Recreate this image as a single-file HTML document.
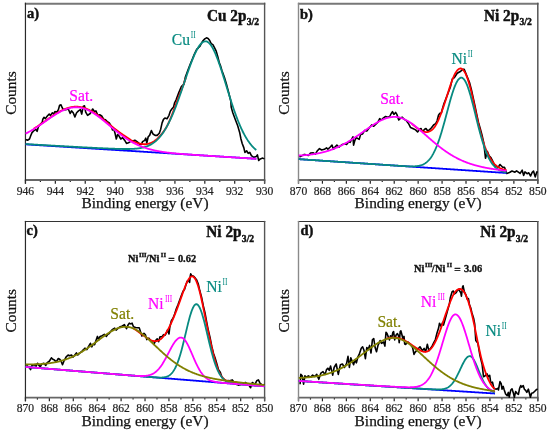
<!DOCTYPE html>
<html><head><meta charset="utf-8"><style>
html,body{margin:0;padding:0;background:#fff;}
svg{display:block;font-family:"Liberation Serif", serif;will-change:transform;}
</style></head><body>
<svg width="550" height="432" viewBox="0 0 550 432" xmlns="http://www.w3.org/2000/svg">
<rect width="550" height="432" fill="#fff"/>
<line x1="264.60" y1="180.0" x2="264.60" y2="183.7" stroke="#222" stroke-width="1.2"/>
<text x="264.60" y="194.8" font-size="11.6" text-anchor="middle" fill="#222" stroke="#222" stroke-width="0.2">930</text>
<line x1="249.65" y1="180.0" x2="249.65" y2="182.0" stroke="#222" stroke-width="1.2"/>
<line x1="234.71" y1="180.0" x2="234.71" y2="183.7" stroke="#222" stroke-width="1.2"/>
<text x="234.71" y="194.8" font-size="11.6" text-anchor="middle" fill="#222" stroke="#222" stroke-width="0.2">932</text>
<line x1="219.76" y1="180.0" x2="219.76" y2="182.0" stroke="#222" stroke-width="1.2"/>
<line x1="204.81" y1="180.0" x2="204.81" y2="183.7" stroke="#222" stroke-width="1.2"/>
<text x="204.81" y="194.8" font-size="11.6" text-anchor="middle" fill="#222" stroke="#222" stroke-width="0.2">934</text>
<line x1="189.87" y1="180.0" x2="189.87" y2="182.0" stroke="#222" stroke-width="1.2"/>
<line x1="174.92" y1="180.0" x2="174.92" y2="183.7" stroke="#222" stroke-width="1.2"/>
<text x="174.92" y="194.8" font-size="11.6" text-anchor="middle" fill="#222" stroke="#222" stroke-width="0.2">936</text>
<line x1="159.97" y1="180.0" x2="159.97" y2="182.0" stroke="#222" stroke-width="1.2"/>
<line x1="145.03" y1="180.0" x2="145.03" y2="183.7" stroke="#222" stroke-width="1.2"/>
<text x="145.03" y="194.8" font-size="11.6" text-anchor="middle" fill="#222" stroke="#222" stroke-width="0.2">938</text>
<line x1="130.08" y1="180.0" x2="130.08" y2="182.0" stroke="#222" stroke-width="1.2"/>
<line x1="115.13" y1="180.0" x2="115.13" y2="183.7" stroke="#222" stroke-width="1.2"/>
<text x="115.13" y="194.8" font-size="11.6" text-anchor="middle" fill="#222" stroke="#222" stroke-width="0.2">940</text>
<line x1="100.18" y1="180.0" x2="100.18" y2="182.0" stroke="#222" stroke-width="1.2"/>
<line x1="85.24" y1="180.0" x2="85.24" y2="183.7" stroke="#222" stroke-width="1.2"/>
<text x="85.24" y="194.8" font-size="11.6" text-anchor="middle" fill="#222" stroke="#222" stroke-width="0.2">942</text>
<line x1="70.29" y1="180.0" x2="70.29" y2="182.0" stroke="#222" stroke-width="1.2"/>
<line x1="55.34" y1="180.0" x2="55.34" y2="183.7" stroke="#222" stroke-width="1.2"/>
<text x="55.34" y="194.8" font-size="11.6" text-anchor="middle" fill="#222" stroke="#222" stroke-width="0.2">944</text>
<line x1="40.40" y1="180.0" x2="40.40" y2="182.0" stroke="#222" stroke-width="1.2"/>
<line x1="25.45" y1="180.0" x2="25.45" y2="183.7" stroke="#222" stroke-width="1.2"/>
<text x="25.45" y="194.8" font-size="11.6" text-anchor="middle" fill="#222" stroke="#222" stroke-width="0.2">946</text>
<line x1="24.849999999999998" y1="3.7" x2="265.3" y2="3.7" stroke="#777" stroke-width="2.0"/>
<line x1="24.849999999999998" y1="180.0" x2="265.3" y2="180.0" stroke="#666" stroke-width="1.8"/>
<line x1="25.45" y1="2.7" x2="25.45" y2="183.7" stroke="#2a2a2a" stroke-width="1.2"/>
<line x1="264.6" y1="2.7" x2="264.6" y2="183.7" stroke="#555" stroke-width="1.4"/>
<text x="145.03" y="208.2" font-size="15.4" text-anchor="middle" fill="#111" stroke="#111" stroke-width="0.25">Binding energy (eV)</text>
<text transform="translate(15.55,93.05) rotate(-90)" x="0" y="0" font-size="15.4" text-anchor="middle" fill="#111" stroke="#111" stroke-width="0.25">Counts</text>
<line x1="537.80" y1="180.0" x2="537.80" y2="183.7" stroke="#222" stroke-width="1.2"/>
<text x="537.80" y="194.8" font-size="11.6" text-anchor="middle" fill="#222" stroke="#222" stroke-width="0.2">850</text>
<line x1="525.83" y1="180.0" x2="525.83" y2="182.0" stroke="#222" stroke-width="1.2"/>
<line x1="513.87" y1="180.0" x2="513.87" y2="183.7" stroke="#222" stroke-width="1.2"/>
<text x="513.87" y="194.8" font-size="11.6" text-anchor="middle" fill="#222" stroke="#222" stroke-width="0.2">852</text>
<line x1="501.90" y1="180.0" x2="501.90" y2="182.0" stroke="#222" stroke-width="1.2"/>
<line x1="489.94" y1="180.0" x2="489.94" y2="183.7" stroke="#222" stroke-width="1.2"/>
<text x="489.94" y="194.8" font-size="11.6" text-anchor="middle" fill="#222" stroke="#222" stroke-width="0.2">854</text>
<line x1="477.97" y1="180.0" x2="477.97" y2="182.0" stroke="#222" stroke-width="1.2"/>
<line x1="466.01" y1="180.0" x2="466.01" y2="183.7" stroke="#222" stroke-width="1.2"/>
<text x="466.01" y="194.8" font-size="11.6" text-anchor="middle" fill="#222" stroke="#222" stroke-width="0.2">856</text>
<line x1="454.04" y1="180.0" x2="454.04" y2="182.0" stroke="#222" stroke-width="1.2"/>
<line x1="442.08" y1="180.0" x2="442.08" y2="183.7" stroke="#222" stroke-width="1.2"/>
<text x="442.08" y="194.8" font-size="11.6" text-anchor="middle" fill="#222" stroke="#222" stroke-width="0.2">858</text>
<line x1="430.11" y1="180.0" x2="430.11" y2="182.0" stroke="#222" stroke-width="1.2"/>
<line x1="418.15" y1="180.0" x2="418.15" y2="183.7" stroke="#222" stroke-width="1.2"/>
<text x="418.15" y="194.8" font-size="11.6" text-anchor="middle" fill="#222" stroke="#222" stroke-width="0.2">860</text>
<line x1="406.19" y1="180.0" x2="406.19" y2="182.0" stroke="#222" stroke-width="1.2"/>
<line x1="394.22" y1="180.0" x2="394.22" y2="183.7" stroke="#222" stroke-width="1.2"/>
<text x="394.22" y="194.8" font-size="11.6" text-anchor="middle" fill="#222" stroke="#222" stroke-width="0.2">862</text>
<line x1="382.25" y1="180.0" x2="382.25" y2="182.0" stroke="#222" stroke-width="1.2"/>
<line x1="370.29" y1="180.0" x2="370.29" y2="183.7" stroke="#222" stroke-width="1.2"/>
<text x="370.29" y="194.8" font-size="11.6" text-anchor="middle" fill="#222" stroke="#222" stroke-width="0.2">864</text>
<line x1="358.32" y1="180.0" x2="358.32" y2="182.0" stroke="#222" stroke-width="1.2"/>
<line x1="346.36" y1="180.0" x2="346.36" y2="183.7" stroke="#222" stroke-width="1.2"/>
<text x="346.36" y="194.8" font-size="11.6" text-anchor="middle" fill="#222" stroke="#222" stroke-width="0.2">866</text>
<line x1="334.39" y1="180.0" x2="334.39" y2="182.0" stroke="#222" stroke-width="1.2"/>
<line x1="322.43" y1="180.0" x2="322.43" y2="183.7" stroke="#222" stroke-width="1.2"/>
<text x="322.43" y="194.8" font-size="11.6" text-anchor="middle" fill="#222" stroke="#222" stroke-width="0.2">868</text>
<line x1="310.46" y1="180.0" x2="310.46" y2="182.0" stroke="#222" stroke-width="1.2"/>
<line x1="298.50" y1="180.0" x2="298.50" y2="183.7" stroke="#222" stroke-width="1.2"/>
<text x="298.50" y="194.8" font-size="11.6" text-anchor="middle" fill="#222" stroke="#222" stroke-width="0.2">870</text>
<line x1="297.9" y1="3.7" x2="538.5" y2="3.7" stroke="#777" stroke-width="2.0"/>
<line x1="297.9" y1="180.0" x2="538.5" y2="180.0" stroke="#666" stroke-width="1.8"/>
<line x1="298.5" y1="2.7" x2="298.5" y2="183.7" stroke="#8a8a8a" stroke-width="1.4"/>
<line x1="537.8" y1="2.7" x2="537.8" y2="183.7" stroke="#555" stroke-width="1.5"/>
<text x="418.15" y="208.2" font-size="15.4" text-anchor="middle" fill="#111" stroke="#111" stroke-width="0.25">Binding energy (eV)</text>
<text transform="translate(288.60,93.05) rotate(-90)" x="0" y="0" font-size="15.4" text-anchor="middle" fill="#111" stroke="#111" stroke-width="0.25">Counts</text>
<line x1="264.60" y1="397.6" x2="264.60" y2="401.3" stroke="#222" stroke-width="1.2"/>
<text x="264.60" y="412.4" font-size="11.6" text-anchor="middle" fill="#222" stroke="#222" stroke-width="0.2">850</text>
<line x1="252.64" y1="397.6" x2="252.64" y2="399.6" stroke="#222" stroke-width="1.2"/>
<line x1="240.69" y1="397.6" x2="240.69" y2="401.3" stroke="#222" stroke-width="1.2"/>
<text x="240.69" y="412.4" font-size="11.6" text-anchor="middle" fill="#222" stroke="#222" stroke-width="0.2">852</text>
<line x1="228.73" y1="397.6" x2="228.73" y2="399.6" stroke="#222" stroke-width="1.2"/>
<line x1="216.77" y1="397.6" x2="216.77" y2="401.3" stroke="#222" stroke-width="1.2"/>
<text x="216.77" y="412.4" font-size="11.6" text-anchor="middle" fill="#222" stroke="#222" stroke-width="0.2">854</text>
<line x1="204.81" y1="397.6" x2="204.81" y2="399.6" stroke="#222" stroke-width="1.2"/>
<line x1="192.86" y1="397.6" x2="192.86" y2="401.3" stroke="#222" stroke-width="1.2"/>
<text x="192.86" y="412.4" font-size="11.6" text-anchor="middle" fill="#222" stroke="#222" stroke-width="0.2">856</text>
<line x1="180.90" y1="397.6" x2="180.90" y2="399.6" stroke="#222" stroke-width="1.2"/>
<line x1="168.94" y1="397.6" x2="168.94" y2="401.3" stroke="#222" stroke-width="1.2"/>
<text x="168.94" y="412.4" font-size="11.6" text-anchor="middle" fill="#222" stroke="#222" stroke-width="0.2">858</text>
<line x1="156.98" y1="397.6" x2="156.98" y2="399.6" stroke="#222" stroke-width="1.2"/>
<line x1="145.03" y1="397.6" x2="145.03" y2="401.3" stroke="#222" stroke-width="1.2"/>
<text x="145.03" y="412.4" font-size="11.6" text-anchor="middle" fill="#222" stroke="#222" stroke-width="0.2">860</text>
<line x1="133.07" y1="397.6" x2="133.07" y2="399.6" stroke="#222" stroke-width="1.2"/>
<line x1="121.11" y1="397.6" x2="121.11" y2="401.3" stroke="#222" stroke-width="1.2"/>
<text x="121.11" y="412.4" font-size="11.6" text-anchor="middle" fill="#222" stroke="#222" stroke-width="0.2">862</text>
<line x1="109.15" y1="397.6" x2="109.15" y2="399.6" stroke="#222" stroke-width="1.2"/>
<line x1="97.20" y1="397.6" x2="97.20" y2="401.3" stroke="#222" stroke-width="1.2"/>
<text x="97.20" y="412.4" font-size="11.6" text-anchor="middle" fill="#222" stroke="#222" stroke-width="0.2">864</text>
<line x1="85.24" y1="397.6" x2="85.24" y2="399.6" stroke="#222" stroke-width="1.2"/>
<line x1="73.28" y1="397.6" x2="73.28" y2="401.3" stroke="#222" stroke-width="1.2"/>
<text x="73.28" y="412.4" font-size="11.6" text-anchor="middle" fill="#222" stroke="#222" stroke-width="0.2">866</text>
<line x1="61.32" y1="397.6" x2="61.32" y2="399.6" stroke="#222" stroke-width="1.2"/>
<line x1="49.37" y1="397.6" x2="49.37" y2="401.3" stroke="#222" stroke-width="1.2"/>
<text x="49.37" y="412.4" font-size="11.6" text-anchor="middle" fill="#222" stroke="#222" stroke-width="0.2">868</text>
<line x1="37.41" y1="397.6" x2="37.41" y2="399.6" stroke="#222" stroke-width="1.2"/>
<line x1="25.45" y1="397.6" x2="25.45" y2="401.3" stroke="#222" stroke-width="1.2"/>
<text x="25.45" y="412.4" font-size="11.6" text-anchor="middle" fill="#222" stroke="#222" stroke-width="0.2">870</text>
<line x1="24.849999999999998" y1="221.5" x2="265.3" y2="221.5" stroke="#333" stroke-width="1.2"/>
<line x1="24.849999999999998" y1="397.6" x2="265.3" y2="397.6" stroke="#666" stroke-width="1.8"/>
<line x1="25.45" y1="220.9" x2="25.45" y2="401.3" stroke="#2a2a2a" stroke-width="1.2"/>
<line x1="264.6" y1="220.9" x2="264.6" y2="401.3" stroke="#555" stroke-width="1.4"/>
<text x="145.03" y="425.8" font-size="15.4" text-anchor="middle" fill="#111" stroke="#111" stroke-width="0.25">Binding energy (eV)</text>
<text transform="translate(15.55,310.75) rotate(-90)" x="0" y="0" font-size="15.4" text-anchor="middle" fill="#111" stroke="#111" stroke-width="0.25">Counts</text>
<line x1="537.80" y1="397.6" x2="537.80" y2="401.3" stroke="#222" stroke-width="1.2"/>
<text x="537.80" y="412.4" font-size="11.6" text-anchor="middle" fill="#222" stroke="#222" stroke-width="0.2">850</text>
<line x1="525.83" y1="397.6" x2="525.83" y2="399.6" stroke="#222" stroke-width="1.2"/>
<line x1="513.87" y1="397.6" x2="513.87" y2="401.3" stroke="#222" stroke-width="1.2"/>
<text x="513.87" y="412.4" font-size="11.6" text-anchor="middle" fill="#222" stroke="#222" stroke-width="0.2">852</text>
<line x1="501.90" y1="397.6" x2="501.90" y2="399.6" stroke="#222" stroke-width="1.2"/>
<line x1="489.94" y1="397.6" x2="489.94" y2="401.3" stroke="#222" stroke-width="1.2"/>
<text x="489.94" y="412.4" font-size="11.6" text-anchor="middle" fill="#222" stroke="#222" stroke-width="0.2">854</text>
<line x1="477.97" y1="397.6" x2="477.97" y2="399.6" stroke="#222" stroke-width="1.2"/>
<line x1="466.01" y1="397.6" x2="466.01" y2="401.3" stroke="#222" stroke-width="1.2"/>
<text x="466.01" y="412.4" font-size="11.6" text-anchor="middle" fill="#222" stroke="#222" stroke-width="0.2">856</text>
<line x1="454.04" y1="397.6" x2="454.04" y2="399.6" stroke="#222" stroke-width="1.2"/>
<line x1="442.08" y1="397.6" x2="442.08" y2="401.3" stroke="#222" stroke-width="1.2"/>
<text x="442.08" y="412.4" font-size="11.6" text-anchor="middle" fill="#222" stroke="#222" stroke-width="0.2">858</text>
<line x1="430.11" y1="397.6" x2="430.11" y2="399.6" stroke="#222" stroke-width="1.2"/>
<line x1="418.15" y1="397.6" x2="418.15" y2="401.3" stroke="#222" stroke-width="1.2"/>
<text x="418.15" y="412.4" font-size="11.6" text-anchor="middle" fill="#222" stroke="#222" stroke-width="0.2">860</text>
<line x1="406.19" y1="397.6" x2="406.19" y2="399.6" stroke="#222" stroke-width="1.2"/>
<line x1="394.22" y1="397.6" x2="394.22" y2="401.3" stroke="#222" stroke-width="1.2"/>
<text x="394.22" y="412.4" font-size="11.6" text-anchor="middle" fill="#222" stroke="#222" stroke-width="0.2">862</text>
<line x1="382.25" y1="397.6" x2="382.25" y2="399.6" stroke="#222" stroke-width="1.2"/>
<line x1="370.29" y1="397.6" x2="370.29" y2="401.3" stroke="#222" stroke-width="1.2"/>
<text x="370.29" y="412.4" font-size="11.6" text-anchor="middle" fill="#222" stroke="#222" stroke-width="0.2">864</text>
<line x1="358.32" y1="397.6" x2="358.32" y2="399.6" stroke="#222" stroke-width="1.2"/>
<line x1="346.36" y1="397.6" x2="346.36" y2="401.3" stroke="#222" stroke-width="1.2"/>
<text x="346.36" y="412.4" font-size="11.6" text-anchor="middle" fill="#222" stroke="#222" stroke-width="0.2">866</text>
<line x1="334.39" y1="397.6" x2="334.39" y2="399.6" stroke="#222" stroke-width="1.2"/>
<line x1="322.43" y1="397.6" x2="322.43" y2="401.3" stroke="#222" stroke-width="1.2"/>
<text x="322.43" y="412.4" font-size="11.6" text-anchor="middle" fill="#222" stroke="#222" stroke-width="0.2">868</text>
<line x1="310.46" y1="397.6" x2="310.46" y2="399.6" stroke="#222" stroke-width="1.2"/>
<line x1="298.50" y1="397.6" x2="298.50" y2="401.3" stroke="#222" stroke-width="1.2"/>
<text x="298.50" y="412.4" font-size="11.6" text-anchor="middle" fill="#222" stroke="#222" stroke-width="0.2">870</text>
<line x1="297.9" y1="221.5" x2="538.5" y2="221.5" stroke="#333" stroke-width="1.2"/>
<line x1="297.9" y1="397.6" x2="538.5" y2="397.6" stroke="#666" stroke-width="1.8"/>
<line x1="298.5" y1="220.9" x2="298.5" y2="401.3" stroke="#8a8a8a" stroke-width="1.4"/>
<line x1="537.8" y1="220.9" x2="537.8" y2="401.3" stroke="#555" stroke-width="1.5"/>
<text x="418.15" y="425.8" font-size="15.4" text-anchor="middle" fill="#111" stroke="#111" stroke-width="0.25">Binding energy (eV)</text>
<text transform="translate(288.60,310.75) rotate(-90)" x="0" y="0" font-size="15.4" text-anchor="middle" fill="#111" stroke="#111" stroke-width="0.25">Counts</text>
<path d="M25.60 139.60L27.50 140.20L29.50 139.00L30.70 135.80L32.00 132.60L33.90 130.70L35.80 129.40L37.10 131.30L38.40 126.80L40.30 124.30L42.20 122.40L42.80 119.20L44.10 117.30L45.40 118.60L47.30 116.00L49.20 114.10L50.50 115.40L52.40 112.80L53.70 114.10L54.90 111.60L56.80 112.20L58.40 109.60L59.60 105.20L61.00 104.90L62.20 107.70L63.20 109.60L65.80 109.60L68.30 109.00L70.20 113.50L71.50 110.90L73.20 112.80L74.90 116.90L76.60 112.80L78.50 110.90L80.40 109.60L81.70 114.10L83.20 106.50L84.50 105.80L85.70 112.20L87.60 115.40L90.20 113.50L92.70 109.00L94.60 111.60L95.90 110.90L97.80 115.40L99.70 114.70L101.70 116.00L103.60 119.20L105.50 119.80L107.40 121.80L109.30 123.00L111.20 126.20L112.50 130.00L113.80 128.80L115.00 133.20L116.30 139.00L117.60 134.50L118.90 135.80L120.80 139.00L122.70 137.70L124.60 140.20L126.50 143.40L128.40 142.80L130.30 141.50L132.90 140.90L134.80 140.20L136.70 141.50L138.60 142.80L139.20 144.20L141.30 144.40L142.60 141.70L144.70 140.30L145.80 138.20L146.80 143.00L148.20 136.80L149.60 135.40L151.40 130.60L153.00 134.00L155.10 135.40L157.20 135.40L159.30 133.30L160.70 129.20L162.10 122.90L163.50 119.40L164.90 118.00L167.00 118.80L169.00 115.30L170.40 111.10L171.80 109.00L173.60 106.90L174.60 102.80L176.00 100.00L178.90 92.40L181.30 86.70L183.80 84.30L185.40 77.00L187.80 70.50L190.30 64.00L192.70 58.40L194.30 54.30L196.70 49.40L198.40 47.80L200.00 46.20L201.60 43.00L203.20 40.50L204.80 38.90L206.50 37.80L208.10 38.40L209.70 40.50L211.30 43.80L212.90 44.60L214.60 47.80L216.20 51.10L217.80 56.70L219.40 63.20L220.20 64.80L221.90 70.50L224.30 77.00L226.70 85.10L228.80 93.00L230.90 101.50L231.20 107.10L232.80 112.80L235.20 119.30L237.70 125.70L239.60 132.20L240.90 138.70L242.20 143.50L243.80 147.60L244.90 152.40L246.60 150.80L248.20 153.30L249.80 152.40L251.40 155.70L253.80 157.30L256.30 156.50L257.40 154.90L258.70 160.50L260.30 158.90L262.70 158.10L264.40 158.90" fill="none" stroke="#000" stroke-width="1.6" stroke-linejoin="round"/>
<path d="M33.60 128.86L34.10 128.55L34.60 128.24L35.10 127.93L35.60 127.61L36.10 127.29L36.60 126.96L37.10 126.63L37.60 126.30L38.10 125.97L38.60 125.64L39.10 125.30L39.60 124.96L40.10 124.62L40.60 124.28L41.10 123.93L41.60 123.59L42.10 123.24L42.60 122.89L43.10 122.54L43.60 122.19L44.10 121.84L44.60 121.48L45.10 121.13L45.60 120.78L46.10 120.42L46.60 120.07L47.10 119.72L47.60 119.37L48.10 119.02L48.60 118.67L49.10 118.32L49.60 117.97L50.10 117.62L50.60 117.28L51.10 116.94L51.60 116.60L52.10 116.26L52.60 115.92L53.10 115.59L53.60 115.26L54.10 114.94L54.60 114.61L55.10 114.29L55.60 113.98L56.10 113.67L56.60 113.36L57.10 113.06L57.60 112.76L58.10 112.47L58.60 112.18L59.10 111.90L59.60 111.62L60.10 111.35L60.60 111.08L61.10 110.82L61.60 110.57L62.10 110.32L62.60 110.08L63.10 109.85L63.60 109.63L64.10 109.41L64.60 109.20L65.10 108.99L65.60 108.80L66.10 108.61L66.60 108.43L67.10 108.26L67.60 108.09L68.10 107.94L68.60 107.79L69.10 107.65L69.60 107.52L70.10 107.40L70.60 107.29L71.10 107.19L71.60 107.09L72.10 107.01L72.60 106.94L73.10 106.87L73.60 106.81L74.10 106.77L74.60 106.73L75.10 106.71L75.60 106.69L76.10 106.68L76.60 106.68L77.10 106.70L77.60 106.72L78.10 106.75L78.60 106.79L79.10 106.84L79.60 106.91L80.10 106.98L80.60 107.06L81.10 107.15L81.60 107.26L82.10 107.37L82.60 107.49L83.10 107.62L83.60 107.76L84.10 107.92L84.60 108.08L85.10 108.25L85.60 108.43L86.10 108.62L86.60 108.81L87.10 109.02L87.60 109.24L88.10 109.46L88.60 109.69L89.10 109.93L89.60 110.18L90.10 110.44L90.60 110.71L91.10 110.98L91.60 111.26L92.10 111.55L92.60 111.84L93.10 112.14L93.60 112.45L94.10 112.77L94.60 113.09L95.10 113.42L95.60 113.75L96.10 114.09L96.60 114.43L97.10 114.78L97.60 115.14L98.10 115.50L98.60 115.86L99.10 116.23L99.60 116.60L100.10 116.98L100.60 117.36L101.10 117.75L101.60 118.13L102.10 118.53L102.60 118.92L103.10 119.31L103.60 119.71L104.10 120.11L104.60 120.52L105.10 120.92L105.60 121.33L106.10 121.73L106.60 122.14L107.10 122.55L107.60 122.96L108.10 123.37L108.60 123.78L109.10 124.19L109.60 124.60L110.10 125.01L110.60 125.42L111.10 125.82L111.60 126.23L112.10 126.63L112.60 127.04L113.10 127.44L113.60 127.84L114.10 128.24L114.60 128.64L115.10 129.03L115.60 129.42L116.10 129.81L116.60 130.19L117.10 130.58L117.60 130.96L118.10 131.33L118.60 131.71L119.10 132.08L119.60 132.44L120.10 132.80L120.60 133.16L121.10 133.51L121.60 133.86L122.10 134.21L122.60 134.55L123.10 134.88L123.60 135.21L124.10 135.54L124.60 135.86L125.10 136.18L125.60 136.50L126.10 136.82L126.60 137.14L127.10 137.47L127.60 137.80L128.10 138.13L128.60 138.48L129.10 138.82L129.60 139.17L130.10 139.51L130.60 139.84L131.10 140.16L131.60 140.46L132.10 140.75L132.60 141.02L133.10 141.27L133.60 141.51L134.10 141.74L134.60 141.96L135.10 142.16L135.60 142.36L136.10 142.54L136.60 142.72L137.10 142.89L137.60 143.04L138.10 143.19L138.60 143.34L139.10 143.47L139.60 143.59L140.10 143.70L140.60 143.80L141.10 143.90L141.60 143.98L142.10 144.05L142.60 144.12L143.10 144.17L143.60 144.21L144.10 144.24L144.60 144.26L145.10 144.26L145.60 144.24L146.10 144.20L146.60 144.14L147.10 144.06L147.60 143.96L148.10 143.84L148.60 143.71L149.10 143.55L149.60 143.38L150.10 143.20L150.60 143.00L151.10 142.79L151.60 142.56L152.10 142.31L152.60 142.04L153.10 141.76L153.60 141.46L154.10 141.14L154.60 140.80L155.10 140.44L155.60 140.07L156.10 139.68L156.60 139.27L157.10 138.84L157.60 138.39L158.10 137.93L158.60 137.44L159.10 136.93L159.60 136.41L160.10 135.86L160.60 135.29L161.10 134.70L161.60 134.09L162.10 133.47L162.60 132.82L163.10 132.16L163.60 131.48L164.10 130.77L164.60 130.04L165.10 129.29L165.60 128.51L166.10 127.69L166.60 126.83L167.10 125.93L167.60 124.99L168.10 124.00L168.60 122.96L169.10 121.87L169.60 120.73L170.10 119.56L170.60 118.34L171.10 117.09L171.60 115.81L172.10 114.50L172.60 113.18L173.10 111.85L173.60 110.50L174.10 109.14L174.60 107.78L175.10 106.42L175.60 105.05L176.10 103.69L176.60 102.34L177.10 100.99L177.60 99.65L178.10 98.33L178.60 97.03L179.10 95.75L179.60 94.49L180.10 93.25L180.60 92.02L181.10 90.79L181.60 89.54L182.10 88.27L182.60 86.97L183.10 85.62L183.60 84.24L184.10 82.83L184.60 81.41L185.10 79.96L185.60 78.51L186.10 77.06" fill="none" stroke="#ff0000" stroke-width="1.8"/>
<path d="M25.60 144.35L26.10 144.39L26.60 144.42L27.10 144.45L27.60 144.48L28.10 144.51L28.60 144.54L29.10 144.57L29.60 144.61L30.10 144.64L30.60 144.67L31.10 144.70L31.60 144.73L32.10 144.76L32.60 144.79L33.10 144.82L33.60 144.86L34.10 144.89L34.60 144.92L35.10 144.95L35.60 144.98L36.10 145.01L36.60 145.04L37.10 145.07L37.60 145.11L38.10 145.14L38.60 145.17L39.10 145.20L39.60 145.23L40.10 145.26L40.60 145.29L41.10 145.33L41.60 145.36L42.10 145.39L42.60 145.42L43.10 145.45L43.60 145.48L44.10 145.51L44.60 145.54L45.10 145.58L45.60 145.61L46.10 145.64L46.60 145.67L47.10 145.70L47.60 145.73L48.10 145.76L48.60 145.79L49.10 145.83L49.60 145.86L50.10 145.89L50.60 145.92L51.10 145.95L51.60 145.98L52.10 146.01L52.60 146.05L53.10 146.08L53.60 146.11L54.10 146.14L54.60 146.17L55.10 146.20L55.60 146.23L56.10 146.26L56.60 146.30L57.10 146.33L57.60 146.36L58.10 146.39L58.60 146.42L59.10 146.45L59.60 146.48L60.10 146.52L60.60 146.55L61.10 146.58L61.60 146.61L62.10 146.64L62.60 146.67L63.10 146.70L63.60 146.73L64.10 146.77L64.60 146.80L65.10 146.83L65.60 146.86L66.10 146.89L66.60 146.92L67.10 146.95L67.60 146.98L68.10 147.02L68.60 147.05L69.10 147.08L69.60 147.11L70.10 147.14L70.60 147.17L71.10 147.20L71.60 147.24L72.10 147.27L72.60 147.30L73.10 147.33L73.60 147.36L74.10 147.39L74.60 147.42L75.10 147.45L75.60 147.49L76.10 147.52L76.60 147.55L77.10 147.58L77.60 147.61L78.10 147.64L78.60 147.67L79.10 147.70L79.60 147.74L80.10 147.77L80.60 147.80L81.10 147.83L81.60 147.86L82.10 147.89L82.60 147.92L83.10 147.96L83.60 147.99L84.10 148.02L84.60 148.05L85.10 148.08L85.60 148.11L86.10 148.14L86.60 148.17L87.10 148.21L87.60 148.24L88.10 148.27L88.60 148.30L89.10 148.33L89.60 148.36L90.10 148.39L90.60 148.43L91.10 148.46L91.60 148.49L92.10 148.52L92.60 148.55L93.10 148.58L93.60 148.61L94.10 148.64L94.60 148.68L95.10 148.71L95.60 148.74L96.10 148.77L96.60 148.80L97.10 148.83L97.60 148.86L98.10 148.89L98.60 148.93L99.10 148.96L99.60 148.99L100.10 149.02L100.60 149.05L101.10 149.08L101.60 149.11L102.10 149.15L102.60 149.18L103.10 149.21L103.60 149.24L104.10 149.27L104.60 149.30L105.10 149.33L105.60 149.36L106.10 149.40L106.60 149.43L107.10 149.46L107.60 149.49L108.10 149.52L108.60 149.55L109.10 149.58L109.60 149.61L110.10 149.65L110.60 149.68L111.10 149.71L111.60 149.74L112.10 149.77L112.60 149.80L113.10 149.83L113.60 149.87L114.10 149.90L114.60 149.93L115.10 149.96L115.60 149.99L116.10 150.02L116.60 150.05L117.10 150.08L117.60 150.12L118.10 150.15L118.60 150.18L119.10 150.21L119.60 150.24L120.10 150.27L120.60 150.30L121.10 150.33L121.60 150.37L122.10 150.40L122.60 150.43L123.10 150.46L123.60 150.49L124.10 150.52L124.60 150.55L125.10 150.59L125.60 150.62L126.10 150.65L126.60 150.68L127.10 150.71L127.60 150.74L128.10 150.77L128.60 150.80L129.10 150.84L129.60 150.87L130.10 150.90L130.60 150.93L131.10 150.96L131.60 150.99L132.10 151.02L132.60 151.06L133.10 151.09L133.60 151.12L134.10 151.15L134.60 151.18L135.10 151.21L135.60 151.24L136.10 151.27L136.60 151.31L137.10 151.34L137.60 151.37L138.10 151.40L138.60 151.43L139.10 151.46L139.60 151.49L140.10 151.52L140.60 151.56L141.10 151.59L141.60 151.62L142.10 151.65L142.60 151.68L143.10 151.71L143.60 151.74L144.10 151.78L144.60 151.81L145.10 151.84L145.60 151.87L146.10 151.90L146.60 151.93L147.10 151.96L147.60 151.99L148.10 152.03L148.60 152.06L149.10 152.09L149.60 152.12L150.10 152.15L150.60 152.18L151.10 152.21L151.60 152.24L152.10 152.28L152.60 152.31L153.10 152.34L153.60 152.37L154.10 152.40L154.60 152.43L155.10 152.46L155.60 152.50L156.10 152.53L156.60 152.56L157.10 152.59L157.60 152.62L158.10 152.65L158.60 152.68L159.10 152.71L159.60 152.75L160.10 152.78L160.60 152.81L161.10 152.84L161.60 152.87L162.10 152.90L162.60 152.93L163.10 152.97L163.60 153.00L164.10 153.03L164.60 153.06L165.10 153.09L165.60 153.12L166.10 153.15L166.60 153.18L167.10 153.22L167.60 153.25L168.10 153.28L168.60 153.31L169.10 153.34L169.60 153.37L170.10 153.40L170.60 153.43L171.10 153.47L171.60 153.50L172.10 153.53L172.60 153.56L173.10 153.59L173.60 153.62L174.10 153.65L174.60 153.69L175.10 153.72L175.60 153.75L176.10 153.78L176.60 153.81L177.10 153.84L177.60 153.87L178.10 153.90L178.60 153.94L179.10 153.97L179.60 154.00L180.10 154.03L180.60 154.06L181.10 154.09L181.60 154.12L182.10 154.15L182.60 154.19L183.10 154.22L183.60 154.25L184.10 154.28L184.60 154.31L185.10 154.34L185.60 154.37L186.10 154.41L186.60 154.44L187.10 154.47L187.60 154.50L188.10 154.53L188.60 154.56L189.10 154.59L189.60 154.62L190.10 154.66L190.60 154.69L191.10 154.72L191.60 154.75L192.10 154.78L192.60 154.81L193.10 154.84L193.60 154.88L194.10 154.91L194.60 154.94L195.10 154.97L195.60 155.00L196.10 155.03L196.60 155.06L197.10 155.09L197.60 155.13L198.10 155.16L198.60 155.19L199.10 155.22L199.60 155.25L200.10 155.28L200.60 155.31L201.10 155.34L201.60 155.38L202.10 155.41L202.60 155.44L203.10 155.47L203.60 155.50L204.10 155.53L204.60 155.56L205.10 155.60L205.60 155.63L206.10 155.66L206.60 155.69L207.10 155.72L207.60 155.75L208.10 155.78L208.60 155.81L209.10 155.85L209.60 155.88L210.10 155.91L210.60 155.94L211.10 155.97L211.60 156.00L212.10 156.03L212.60 156.06L213.10 156.10L213.60 156.13L214.10 156.16L214.60 156.19L215.10 156.22L215.60 156.25L216.10 156.28L216.60 156.32L217.10 156.35L217.60 156.38L218.10 156.41L218.60 156.44L219.10 156.47L219.60 156.50L220.10 156.53L220.60 156.57L221.10 156.60L221.60 156.63L222.10 156.66L222.60 156.69L223.10 156.72L223.60 156.75L224.10 156.78L224.60 156.82L225.10 156.85L225.60 156.88L226.10 156.91L226.60 156.94L227.10 156.97L227.60 157.00L228.10 157.04L228.60 157.07L229.10 157.10L229.60 157.13L230.10 157.16L230.60 157.19L231.10 157.22L231.60 157.25L232.10 157.29L232.60 157.32L233.10 157.35L233.60 157.38L234.10 157.41L234.60 157.44L235.10 157.47L235.60 157.51L236.10 157.54L236.60 157.57L237.10 157.60L237.60 157.63L238.10 157.66L238.60 157.69L239.10 157.72L239.60 157.76L240.10 157.79L240.60 157.82L241.10 157.85L241.60 157.88L242.10 157.91L242.60 157.94L243.10 157.97L243.60 158.01L244.10 158.04L244.60 158.07L245.10 158.10L245.60 158.13L246.10 158.16L246.60 158.19L247.10 158.23L247.60 158.26L248.10 158.29L248.60 158.32L249.10 158.35L249.60 158.38L250.10 158.41L250.60 158.44L251.10 158.48L251.60 158.51L252.10 158.54L252.60 158.57L253.10 158.60L253.60 158.63L254.10 158.66L254.60 158.69L255.10 158.73L255.60 158.76L256.10 158.79L256.30 158.80" fill="none" stroke="#0000ff" stroke-width="1.8"/>
<path d="M25.60 144.05L26.10 144.07L26.60 144.10L27.10 144.13L27.60 144.16L28.10 144.19L28.60 144.22L29.10 144.25L29.60 144.28L30.10 144.31L30.60 144.34L31.10 144.37L31.60 144.40L32.10 144.43L32.60 144.46L33.10 144.49L33.60 144.52L34.10 144.55L34.60 144.58L35.10 144.61L35.60 144.63L36.10 144.66L36.60 144.69L37.10 144.72L37.60 144.75L38.10 144.78L38.60 144.81L39.10 144.84L39.60 144.87L40.10 144.90L40.60 144.93L41.10 144.96L41.60 144.99L42.10 145.01L42.60 145.04L43.10 145.07L43.60 145.10L44.10 145.13L44.60 145.16L45.10 145.19L45.60 145.22L46.10 145.25L46.60 145.28L47.10 145.30L47.60 145.33L48.10 145.36L48.60 145.39L49.10 145.42L49.60 145.45L50.10 145.48L50.60 145.51L51.10 145.53L51.60 145.56L52.10 145.59L52.60 145.62L53.10 145.65L53.60 145.68L54.10 145.71L54.60 145.73L55.10 145.76L55.60 145.79L56.10 145.82L56.60 145.85L57.10 145.88L57.60 145.91L58.10 145.93L58.60 145.96L59.10 145.99L59.60 146.02L60.10 146.05L60.60 146.07L61.10 146.10L61.60 146.13L62.10 146.16L62.60 146.19L63.10 146.22L63.60 146.24L64.10 146.27L64.60 146.30L65.10 146.33L65.60 146.35L66.10 146.38L66.60 146.41L67.10 146.44L67.60 146.47L68.10 146.49L68.60 146.52L69.10 146.55L69.60 146.58L70.10 146.60L70.60 146.63L71.10 146.66L71.60 146.69L72.10 146.71L72.60 146.74L73.10 146.77L73.60 146.80L74.10 146.82L74.60 146.85L75.10 146.88L75.60 146.90L76.10 146.93L76.60 146.96L77.10 146.98L77.60 147.01L78.10 147.04L78.60 147.06L79.10 147.09L79.60 147.12L80.10 147.14L80.60 147.17L81.10 147.20L81.60 147.22L82.10 147.25L82.60 147.28L83.10 147.30L83.60 147.33L84.10 147.36L84.60 147.38L85.10 147.41L85.60 147.43L86.10 147.46L86.60 147.49L87.10 147.51L87.60 147.54L88.10 147.56L88.60 147.59L89.10 147.61L89.60 147.64L90.10 147.66L90.60 147.69L91.10 147.71L91.60 147.74L92.10 147.76L92.60 147.79L93.10 147.81L93.60 147.84L94.10 147.86L94.60 147.89L95.10 147.91L95.60 147.94L96.10 147.96L96.60 147.99L97.10 148.01L97.60 148.03L98.10 148.06L98.60 148.08L99.10 148.11L99.60 148.13L100.10 148.15L100.60 148.18L101.10 148.20L101.60 148.22L102.10 148.25L102.60 148.27L103.10 148.29L103.60 148.31L104.10 148.34L104.60 148.36L105.10 148.38L105.60 148.40L106.10 148.42L106.60 148.45L107.10 148.47L107.60 148.49L108.10 148.51L108.60 148.53L109.10 148.55L109.60 148.57L110.10 148.59L110.60 148.61L111.10 148.63L111.60 148.65L112.10 148.67L112.60 148.69L113.10 148.71L113.60 148.73L114.10 148.75L114.60 148.76L115.10 148.78L115.60 148.80L116.10 148.81L116.60 148.83L117.10 148.85L117.60 148.86L118.10 148.88L118.60 148.89L119.10 148.90L119.60 148.92L120.10 148.93L120.60 148.94L121.10 148.95L121.60 148.96L122.10 148.97L122.60 148.98L123.10 148.99L123.60 148.99L124.10 149.00L124.60 149.00L125.10 149.01L125.60 149.01L126.10 149.01L126.60 149.01L127.10 149.01L127.60 149.01L128.10 149.00L128.60 149.00L129.10 148.99L129.60 148.98L130.10 148.97L130.60 148.95L131.10 148.94L131.60 148.92L132.10 148.90L132.60 148.88L133.10 148.85L133.60 148.82L134.10 148.79L134.60 148.76L135.10 148.72L135.60 148.68L136.10 148.63L136.60 148.59L137.10 148.53L137.60 148.48L138.10 148.41L138.60 148.35L139.10 148.28L139.60 148.20L140.10 148.12L140.60 148.03L141.10 147.94L141.60 147.84L142.10 147.73L142.60 147.62L143.10 147.50L143.60 147.38L144.10 147.24L144.60 147.10L145.10 146.95L145.60 146.79L146.10 146.62L146.60 146.44L147.10 146.26L147.60 146.06L148.10 145.85L148.60 145.63L149.10 145.40L149.60 145.16L150.10 144.90L150.60 144.64L151.10 144.36L151.60 144.06L152.10 143.76L152.60 143.44L153.10 143.10L153.60 142.75L154.10 142.38L154.60 142.00L155.10 141.60L155.60 141.19L156.10 140.75L156.60 140.30L157.10 139.83L157.60 139.35L158.10 138.84L158.60 138.32L159.10 137.77L159.60 137.20L160.10 136.62L160.60 136.01L161.10 135.38L161.60 134.73L162.10 134.06L162.60 133.36L163.10 132.65L163.60 131.91L164.10 131.15L164.60 130.36L165.10 129.55L165.60 128.72L166.10 127.86L166.60 126.98L167.10 126.07L167.60 125.15L168.10 124.19L168.60 123.22L169.10 122.22L169.60 121.19L170.10 120.14L170.60 119.07L171.10 117.98L171.60 116.86L172.10 115.72L172.60 114.55L173.10 113.37L173.60 112.16L174.10 110.93L174.60 109.68L175.10 108.42L175.60 107.13L176.10 105.82L176.60 104.49L177.10 103.15L177.60 101.79L178.10 100.42L178.60 99.03L179.10 97.63L179.60 96.21L180.10 94.78L180.60 93.34L181.10 91.89L181.60 90.44L182.10 88.97L182.60 87.50L183.10 86.03L183.60 84.55L184.10 83.07L184.60 81.60L185.10 80.12L185.60 78.64L186.10 77.17L186.60 75.71L187.10 74.25L187.60 72.80L188.10 71.36L188.60 69.94L189.10 68.53L189.60 67.13L190.10 65.76L190.60 64.40L191.10 63.07L191.60 61.75L192.10 60.47L192.60 59.21L193.10 57.98L193.60 56.78L194.10 55.61L194.60 54.47L195.10 53.38L195.60 52.32L196.10 51.30L196.60 50.32L197.10 49.38L197.60 48.49L198.10 47.64L198.60 46.84L199.10 46.09L199.60 45.39L200.10 44.75L200.60 44.15L201.10 43.61L201.60 43.13L202.10 42.70L202.60 42.33L203.10 42.02L203.60 41.76L204.10 41.56L204.60 41.43L205.10 41.35L205.60 41.34L206.10 41.38L206.60 41.49L207.10 41.67L207.60 41.92L208.10 42.23L208.60 42.61L209.10 43.05L209.60 43.56L210.10 44.12L210.60 44.75L211.10 45.44L211.60 46.19L212.10 47.00L212.60 47.86L213.10 48.78L213.60 49.75L214.10 50.77L214.60 51.84L215.10 52.96L215.60 54.12L216.10 55.32L216.60 56.57L217.10 57.85L217.60 59.17L218.10 60.53L218.60 61.91L219.10 63.33L219.60 64.78L220.10 66.25L220.60 67.75L221.10 69.27L221.60 70.80L222.10 72.36L222.60 73.93L223.10 75.51L223.60 77.11L224.10 78.71L224.60 80.33L225.10 81.94L225.60 83.57L226.10 85.19L226.60 86.82L227.10 88.44L227.60 90.06L228.10 91.67L228.60 93.28L229.10 94.88L229.60 96.48L230.10 98.06L230.60 99.63L231.10 101.18L231.60 102.72L232.10 104.25L232.60 105.76L233.10 107.25L233.60 108.72L234.10 110.18L234.60 111.61L235.10 113.02L235.60 114.41L236.10 115.77L236.60 117.12L237.10 118.43L237.60 119.73L238.10 121.00L238.60 122.24L239.10 123.46L239.60 124.65L240.10 125.82L240.60 126.96L241.10 128.07L241.60 129.15L242.10 130.21L242.60 131.25L243.10 132.25L243.60 133.23L244.10 134.19L244.60 135.11L245.10 136.01L245.60 136.89L246.10 137.74L246.60 138.56L247.10 139.36L247.60 140.13L248.10 140.88L248.60 141.61L249.10 142.31L249.60 142.99L250.10 143.64L250.60 144.27L251.10 144.88L251.60 145.47L252.10 146.04L252.60 146.59L253.10 147.12L253.60 147.63L254.10 148.12L254.60 148.59L255.10 149.05L255.60 149.48L256.10 149.90L256.30 150.06" fill="none" stroke="#078a80" stroke-width="1.8"/>
<path d="M25.60 133.59L26.10 133.35L26.60 133.10L27.10 132.85L27.60 132.59L28.10 132.33L28.60 132.07L29.10 131.80L29.60 131.52L30.10 131.25L30.60 130.97L31.10 130.68L31.60 130.39L32.10 130.10L32.60 129.80L33.10 129.50L33.60 129.20L34.10 128.89L34.60 128.58L35.10 128.27L35.60 127.95L36.10 127.63L36.60 127.31L37.10 126.99L37.60 126.66L38.10 126.33L38.60 126.00L39.10 125.66L39.60 125.32L40.10 124.98L40.60 124.64L41.10 124.30L41.60 123.96L42.10 123.61L42.60 123.26L43.10 122.92L43.60 122.57L44.10 122.22L44.60 121.87L45.10 121.52L45.60 121.17L46.10 120.82L46.60 120.47L47.10 120.12L47.60 119.77L48.10 119.42L48.60 119.07L49.10 118.72L49.60 118.38L50.10 118.04L50.60 117.69L51.10 117.35L51.60 117.02L52.10 116.68L52.60 116.35L53.10 116.02L53.60 115.69L54.10 115.37L54.60 115.05L55.10 114.73L55.60 114.42L56.10 114.11L56.60 113.81L57.10 113.51L57.60 113.21L58.10 112.92L58.60 112.64L59.10 112.36L59.60 112.08L60.10 111.82L60.60 111.55L61.10 111.30L61.60 111.05L62.10 110.81L62.60 110.57L63.10 110.34L63.60 110.12L64.10 109.90L64.60 109.69L65.10 109.49L65.60 109.30L66.10 109.12L66.60 108.94L67.10 108.77L67.60 108.61L68.10 108.46L68.60 108.32L69.10 108.18L69.60 108.06L70.10 107.94L70.60 107.83L71.10 107.73L71.60 107.64L72.10 107.56L72.60 107.49L73.10 107.43L73.60 107.38L74.10 107.34L74.60 107.31L75.10 107.28L75.60 107.27L76.10 107.27L76.60 107.27L77.10 107.29L77.60 107.32L78.10 107.35L78.60 107.40L79.10 107.46L79.60 107.52L80.10 107.60L80.60 107.69L81.10 107.79L81.60 107.89L82.10 108.01L82.60 108.14L83.10 108.28L83.60 108.42L84.10 108.58L84.60 108.74L85.10 108.92L85.60 109.11L86.10 109.30L86.60 109.50L87.10 109.72L87.60 109.94L88.10 110.17L88.60 110.40L89.10 110.65L89.60 110.91L90.10 111.17L90.60 111.44L91.10 111.72L91.60 112.01L92.10 112.30L92.60 112.60L93.10 112.91L93.60 113.22L94.10 113.55L94.60 113.87L95.10 114.21L95.60 114.55L96.10 114.90L96.60 115.25L97.10 115.60L97.60 115.97L98.10 116.33L98.60 116.71L99.10 117.08L99.60 117.46L100.10 117.85L100.60 118.24L101.10 118.63L101.60 119.03L102.10 119.42L102.60 119.83L103.10 120.23L103.60 120.64L104.10 121.05L104.60 121.46L105.10 121.87L105.60 122.29L106.10 122.70L106.60 123.12L107.10 123.54L107.60 123.96L108.10 124.38L108.60 124.80L109.10 125.22L109.60 125.64L110.10 126.06L110.60 126.48L111.10 126.90L111.60 127.32L112.10 127.73L112.60 128.15L113.10 128.57L113.60 128.98L114.10 129.39L114.60 129.80L115.10 130.21L115.60 130.61L116.10 131.02L116.60 131.42L117.10 131.82L117.60 132.21L118.10 132.61L118.60 133.00L119.10 133.38L119.60 133.77L120.10 134.15L120.60 134.52L121.10 134.90L121.60 135.27L122.10 135.63L122.60 136.00L123.10 136.35L123.60 136.71L124.10 137.06L124.60 137.41L125.10 137.75L125.60 138.09L126.10 138.42L126.60 138.75L127.10 139.08L127.60 139.40L128.10 139.71L128.60 140.03L129.10 140.33L129.60 140.64L130.10 140.94L130.60 141.23L131.10 141.52L131.60 141.81L132.10 142.09L132.60 142.36L133.10 142.63L133.60 142.90L134.10 143.16L134.60 143.42L135.10 143.67L135.60 143.92L136.10 144.17L136.60 144.41L137.10 144.64L137.60 144.87L138.10 145.10L138.60 145.32L139.10 145.54L139.60 145.75L140.10 145.96L140.60 146.17L141.10 146.37L141.60 146.57L142.10 146.76L142.60 146.95L143.10 147.14L143.60 147.32L144.10 147.49L144.60 147.67L145.10 147.84L145.60 148.00L146.10 148.17L146.60 148.33L147.10 148.48L147.60 148.63L148.10 148.78L148.60 148.93L149.10 149.07L149.60 149.21L150.10 149.35L150.60 149.48L151.10 149.61L151.60 149.74L152.10 149.86L152.60 149.98L153.10 150.10L153.60 150.21L154.10 150.33L154.60 150.44L155.10 150.55L155.60 150.65L156.10 150.75L156.60 150.86L157.10 150.95L157.60 151.05L158.10 151.14L158.60 151.24L159.10 151.33L159.60 151.41L160.10 151.50L160.60 151.58L161.10 151.66L161.60 151.74L162.10 151.82L162.60 151.90L163.10 151.97L163.60 152.05L164.10 152.12L164.60 152.19L165.10 152.26L165.60 152.33L166.10 152.39L166.60 152.46L167.10 152.52L167.60 152.58L168.10 152.64L168.60 152.70L169.10 152.76L169.60 152.82L170.10 152.88L170.60 152.93L171.10 152.99L171.60 153.04L172.10 153.09L172.60 153.14L173.10 153.20L173.60 153.25L174.10 153.30L174.60 153.34L175.10 153.39L175.60 153.44L176.10 153.48L176.60 153.53L177.10 153.58L177.60 153.62L178.10 153.66L178.60 153.71L179.10 153.75L179.60 153.79L180.10 153.83L180.60 153.87L181.10 153.92L181.60 153.96L182.10 154.00L182.60 154.04L183.10 154.07L183.60 154.11L184.10 154.15L184.60 154.19L185.10 154.23L185.60 154.27L186.10 154.30L186.60 154.34L187.10 154.38L187.60 154.41L188.10 154.45L188.60 154.48L189.10 154.52L189.60 154.55L190.10 154.59L190.60 154.62L191.10 154.66L191.60 154.69L192.10 154.73L192.60 154.76L193.10 154.80L193.60 154.83L194.10 154.86L194.60 154.90L195.10 154.93L195.60 154.97L196.10 155.00L196.60 155.03L197.10 155.07L197.60 155.10L198.10 155.13L198.60 155.16L199.10 155.20L199.60 155.23L200.10 155.26L200.60 155.29L201.10 155.33L201.60 155.36L202.10 155.39L202.60 155.42L203.10 155.46L203.60 155.49L204.10 155.52L204.60 155.55L205.10 155.58L205.60 155.62L206.10 155.65L206.60 155.68L207.10 155.71L207.60 155.74L208.10 155.78L208.60 155.81L209.10 155.84L209.60 155.87L210.10 155.90L210.60 155.93L211.10 155.97L211.60 156.00L212.10 156.03L212.60 156.06L213.10 156.09L213.60 156.12L214.10 156.16L214.60 156.19L215.10 156.22L215.60 156.25L216.10 156.28L216.60 156.31L217.10 156.34L217.60 156.38L218.10 156.41L218.60 156.44L219.10 156.47L219.60 156.50L220.10 156.53L220.60 156.56L221.10 156.60L221.60 156.63L222.10 156.66L222.60 156.69L223.10 156.72L223.60 156.75L224.10 156.78L224.60 156.82L225.10 156.85L225.60 156.88L226.10 156.91L226.60 156.94L227.10 156.97L227.60 157.00L228.10 157.04L228.60 157.07L229.10 157.10L229.60 157.13L230.10 157.16L230.60 157.19L231.10 157.22L231.60 157.25L232.10 157.29L232.60 157.32L233.10 157.35L233.60 157.38L234.10 157.41L234.60 157.44L235.10 157.47L235.60 157.50L236.10 157.54L236.60 157.57L237.10 157.60L237.60 157.63L238.10 157.66L238.60 157.69L239.10 157.72L239.60 157.76L240.10 157.79L240.60 157.82L241.10 157.85L241.60 157.88L242.10 157.91L242.60 157.94L243.10 157.97L243.60 158.01L244.10 158.04L244.60 158.07L245.10 158.10L245.60 158.13L246.10 158.16L246.60 158.19L247.10 158.23L247.60 158.26L248.10 158.29L248.60 158.32L249.10 158.35L249.60 158.38L250.10 158.41L250.60 158.44L251.10 158.48L251.60 158.51L252.10 158.54L252.60 158.57L253.10 158.60L253.60 158.63L254.10 158.66L254.60 158.69L255.10 158.73L255.60 158.76L256.10 158.79L256.30 158.80" fill="none" stroke="#ff00ff" stroke-width="1.8"/>
<path d="M299.40 157.00L302.20 155.60L304.25 154.41L306.30 154.90L308.40 155.45L310.50 153.10L313.30 152.80L315.40 154.20L317.40 150.70L319.50 148.60L321.60 150.00L324.40 149.30L326.50 147.90L327.90 149.30L330.00 147.20L332.00 145.10L333.40 149.30L334.80 147.20L336.90 145.10L339.00 147.20L340.40 145.80L342.40 144.40L344.50 143.75L346.60 144.40L348.70 141.70L350.10 142.40L351.50 139.60L352.90 136.80L353.60 145.10L354.90 140.30L356.30 137.50L357.10 138.10L359.20 139.40L360.60 134.60L362.60 133.90L364.70 130.40L366.80 131.10L368.90 128.30L371.70 124.90L373.75 126.25L375.80 124.20L377.90 122.10L379.70 118.60L381.40 120.00L383.50 117.90L385.60 116.50L387.60 117.20L389.70 116.50L391.10 113.75L392.50 111.70L393.90 114.40L395.60 112.40L396.90 114.40L398.75 120.00L400.10 118.60L402.20 117.20L404.30 119.30L406.40 120.70L408.50 123.50L410.60 127.60L412.80 128.50L415.60 129.90L417.60 131.90L419.70 129.20L421.10 128.50L422.50 131.70L424.60 129.20L426.00 128.50L427.40 130.60L429.40 129.90L431.50 127.80L433.60 125.00L435.70 123.60L437.10 120.80L438.50 115.30L439.90 113.20L441.25 113.20L442.60 108.30L444.00 103.50L445.40 100.00L448.20 92.80L450.30 87.20L452.35 78.85L454.40 77.50L457.20 73.30L460.70 71.25L462.80 69.40L464.20 69.20L466.90 76.10L469.70 83.10L471.46 89.96L473.21 97.88L474.97 105.81L476.72 114.39L478.48 122.51L480.23 128.45L481.99 135.00L483.74 142.57L485.50 158.20L487.30 151.42L489.10 155.87L490.90 157.55L492.70 161.12L494.50 165.50L498.20 167.30L500.00 164.50L502.70 167.30L504.50 167.30L506.70 173.40L509.50 172.50L512.00 171.00L514.90 172.20L516.60 170.80L520.10 173.40L522.20 170.20L523.60 175.40L525.00 171.90L527.10 173.70L528.80 172.80L530.60 176.00L532.30 172.20L533.50 171.00L535.20 176.90L536.70 172.20L537.60 171.50" fill="none" stroke="#000" stroke-width="1.6" stroke-linejoin="round"/>
<path d="M411.30 123.26L411.80 123.67L412.30 124.09L412.80 124.53L413.30 124.97L413.80 125.40L414.30 125.83L414.80 126.25L415.30 126.66L415.80 127.05L416.30 127.43L416.80 127.79L417.30 128.14L417.80 128.48L418.30 128.81L418.80 129.13L419.30 129.44L419.80 129.75L420.30 130.04L420.80 130.32L421.30 130.59L421.80 130.84L422.30 131.07L422.80 131.29L423.30 131.48L423.80 131.65L424.30 131.79L424.80 131.90L425.30 131.98L425.80 132.03L426.30 132.05L426.80 132.04L427.30 132.00L427.80 131.92L428.30 131.81L428.80 131.66L429.30 131.48L429.80 131.26L430.30 131.00L430.80 130.70L431.30 130.36L431.80 129.98L432.30 129.55L432.80 129.07L433.30 128.55L433.80 127.98L434.30 127.35L434.80 126.67L435.30 125.93L435.80 125.13L436.30 124.28L436.80 123.36L437.30 122.39L437.80 121.36L438.30 120.28L438.80 119.14L439.30 117.95L439.80 116.72L440.30 115.46L440.80 114.15L441.30 112.82L441.80 111.46L442.30 110.07L442.80 108.66L443.30 107.23L443.80 105.76L444.30 104.28L444.80 102.77L445.30 101.24L445.80 99.69L446.30 98.12L446.80 96.53L447.30 94.94L447.80 93.36L448.30 91.77L448.80 90.20L449.30 88.65L449.80 87.12L450.30 85.61L450.80 84.14L451.30 82.71L451.80 81.32L452.30 79.98L452.80 78.70L453.30 77.47L453.80 76.31L454.30 75.22L454.80 74.21L455.30 73.28L455.80 72.42L456.30 71.65L456.80 70.96L457.30 70.34L457.80 69.81L458.30 69.36L458.80 69.00L459.30 68.73L459.80 68.55L460.30 68.47L460.80 68.48L461.30 68.59L461.80 68.80L462.30 69.11L462.80 69.53L463.30 70.05L463.80 70.67L464.30 71.39L464.80 72.21L465.30 73.14L465.80 74.17L466.30 75.30L466.80 76.54L467.30 77.88L467.80 79.32L468.30 80.85L468.80 82.48L469.30 84.20L469.80 86.00L470.30 87.88L470.80 89.83L471.30 91.85L471.80 93.94L472.30 96.08L472.80 98.29L473.30 100.53L473.80 102.82L474.30 105.14L474.80 107.47L475.30 109.81L475.80 112.13L476.30 114.44L476.80 116.72L477.30 118.96L477.80 121.16L478.30 123.32L478.80 125.44L479.30 127.51L479.80 129.52L480.30 131.49L480.80 133.40L481.30 135.26L481.80 137.06L482.30 138.80L482.80 140.47L483.30 142.08L483.80 143.62L484.30 145.10L484.80 146.51L485.30 147.86L485.80 149.15L486.30 150.38L486.80 151.55L487.30 152.67L487.80 153.74L488.30 154.76L488.80 155.73L489.30 156.65L489.80 157.54L490.30 158.38L490.80 159.18L491.30 159.95L491.80 160.67L492.30 161.37L492.80 162.02L493.30 162.64L493.80 163.22L494.30 163.77L494.80 164.29L495.30 164.77L495.80 165.22L496.30 165.64L496.80 166.04L497.30 166.42L497.80 166.77L498.30 167.11L498.80 167.43L499.30 167.72L499.80 168.00L500.30 168.25L500.80 168.48L501.30 168.70L501.80 168.89L502.30 169.06L502.80 169.22L503.30 169.37L503.80 169.50L504.30 169.63L504.80 169.75L505.30 169.86L505.80 169.97L506.30 170.08L506.40 170.11" fill="none" stroke="#ff0000" stroke-width="1.8"/>
<path d="M298.80 159.15L299.30 159.18L299.80 159.22L300.30 159.25L300.80 159.28L301.30 159.32L301.80 159.35L302.30 159.38L302.80 159.42L303.30 159.45L303.80 159.48L304.30 159.52L304.80 159.55L305.30 159.58L305.80 159.62L306.30 159.65L306.80 159.68L307.30 159.72L307.80 159.75L308.30 159.78L308.80 159.82L309.30 159.85L309.80 159.88L310.30 159.92L310.80 159.95L311.30 159.98L311.80 160.02L312.30 160.05L312.80 160.08L313.30 160.12L313.80 160.15L314.30 160.18L314.80 160.22L315.30 160.25L315.80 160.28L316.30 160.32L316.80 160.35L317.30 160.38L317.80 160.42L318.30 160.45L318.80 160.48L319.30 160.52L319.80 160.55L320.30 160.58L320.80 160.62L321.30 160.65L321.80 160.68L322.30 160.72L322.80 160.75L323.30 160.78L323.80 160.82L324.30 160.85L324.80 160.88L325.30 160.92L325.80 160.95L326.30 160.98L326.80 161.02L327.30 161.05L327.80 161.08L328.30 161.12L328.80 161.15L329.30 161.18L329.80 161.22L330.30 161.25L330.80 161.28L331.30 161.32L331.80 161.35L332.30 161.38L332.80 161.42L333.30 161.45L333.80 161.48L334.30 161.52L334.80 161.55L335.30 161.58L335.80 161.62L336.30 161.65L336.80 161.68L337.30 161.72L337.80 161.75L338.30 161.78L338.80 161.82L339.30 161.85L339.80 161.88L340.30 161.92L340.80 161.95L341.30 161.98L341.80 162.02L342.30 162.05L342.80 162.08L343.30 162.12L343.80 162.15L344.30 162.18L344.80 162.22L345.30 162.25L345.80 162.28L346.30 162.32L346.80 162.35L347.30 162.38L347.80 162.42L348.30 162.45L348.80 162.48L349.30 162.51L349.80 162.55L350.30 162.58L350.80 162.61L351.30 162.65L351.80 162.68L352.30 162.71L352.80 162.75L353.30 162.78L353.80 162.81L354.30 162.85L354.80 162.88L355.30 162.91L355.80 162.95L356.30 162.98L356.80 163.01L357.30 163.05L357.80 163.08L358.30 163.11L358.80 163.15L359.30 163.18L359.80 163.21L360.30 163.25L360.80 163.28L361.30 163.31L361.80 163.35L362.30 163.38L362.80 163.41L363.30 163.45L363.80 163.48L364.30 163.51L364.80 163.55L365.30 163.58L365.80 163.61L366.30 163.65L366.80 163.68L367.30 163.71L367.80 163.75L368.30 163.78L368.80 163.81L369.30 163.85L369.80 163.88L370.30 163.91L370.80 163.95L371.30 163.98L371.80 164.01L372.30 164.05L372.80 164.08L373.30 164.11L373.80 164.15L374.30 164.18L374.80 164.21L375.30 164.25L375.80 164.28L376.30 164.31L376.80 164.35L377.30 164.38L377.80 164.41L378.30 164.45L378.80 164.48L379.30 164.51L379.80 164.55L380.30 164.58L380.80 164.61L381.30 164.65L381.80 164.68L382.30 164.71L382.80 164.75L383.30 164.78L383.80 164.81L384.30 164.85L384.80 164.88L385.30 164.91L385.80 164.95L386.30 164.98L386.80 165.01L387.30 165.05L387.80 165.08L388.30 165.11L388.80 165.15L389.30 165.18L389.80 165.21L390.30 165.25L390.80 165.28L391.30 165.31L391.80 165.35L392.30 165.38L392.80 165.41L393.30 165.45L393.80 165.48L394.30 165.51L394.80 165.55L395.30 165.58L395.80 165.61L396.30 165.65L396.80 165.68L397.30 165.71L397.80 165.75L398.30 165.78L398.80 165.81L399.30 165.85L399.80 165.88L400.30 165.91L400.80 165.95L401.30 165.98L401.80 166.01L402.30 166.05L402.80 166.08L403.30 166.11L403.80 166.15L404.30 166.18L404.80 166.21L405.30 166.25L405.80 166.28L406.30 166.31L406.80 166.35L407.30 166.38L407.80 166.41L408.30 166.45L408.80 166.48L409.30 166.51L409.80 166.55L410.30 166.58L410.80 166.61L411.30 166.65L411.80 166.68L412.30 166.71L412.80 166.75L413.30 166.78L413.80 166.81L414.30 166.85L414.80 166.88L415.30 166.91L415.80 166.95L416.30 166.98L416.80 167.01L417.30 167.05L417.80 167.08L418.30 167.11L418.80 167.15L419.30 167.18L419.80 167.21L420.30 167.25L420.80 167.28L421.30 167.31L421.80 167.35L422.30 167.38L422.80 167.41L423.30 167.45L423.80 167.48L424.30 167.51L424.80 167.55L425.30 167.58L425.80 167.61L426.30 167.65L426.80 167.68L427.30 167.71L427.80 167.75L428.30 167.78L428.80 167.81L429.30 167.85L429.80 167.88L430.30 167.91L430.80 167.95L431.30 167.98L431.80 168.01L432.30 168.05L432.80 168.08L433.30 168.11L433.80 168.15L434.30 168.18L434.80 168.21L435.30 168.25L435.80 168.28L436.30 168.31L436.80 168.35L437.30 168.38L437.80 168.41L438.30 168.45L438.80 168.48L439.30 168.51L439.80 168.55L440.30 168.58L440.80 168.61L441.30 168.65L441.80 168.68L442.30 168.71L442.80 168.75L443.30 168.78L443.80 168.81L444.30 168.85L444.80 168.88L445.30 168.91L445.80 168.95L446.30 168.98L446.80 169.01L447.30 169.05L447.80 169.08L448.30 169.11L448.80 169.14L449.30 169.18L449.80 169.21L450.30 169.24L450.80 169.28L451.30 169.31L451.80 169.34L452.30 169.38L452.80 169.41L453.30 169.44L453.80 169.48L454.30 169.51L454.80 169.54L455.30 169.58L455.80 169.61L456.30 169.64L456.80 169.68L457.30 169.71L457.80 169.74L458.30 169.78L458.80 169.81L459.30 169.84L459.80 169.88L460.30 169.91L460.80 169.94L461.30 169.98L461.80 170.01L462.30 170.04L462.80 170.08L463.30 170.11L463.80 170.14L464.30 170.18L464.80 170.21L465.30 170.24L465.80 170.28L466.30 170.31L466.80 170.34L467.30 170.38L467.80 170.41L468.30 170.44L468.80 170.48L469.30 170.51L469.80 170.54L470.30 170.58L470.80 170.61L471.30 170.64L471.80 170.68L472.30 170.71L472.80 170.74L473.30 170.78L473.80 170.81L474.30 170.84L474.80 170.88L475.30 170.91L475.80 170.94L476.30 170.98L476.80 171.01L477.30 171.04L477.80 171.08L478.30 171.11L478.80 171.14L479.30 171.18L479.80 171.21L480.30 171.24L480.80 171.28L481.30 171.31L481.80 171.34L482.30 171.38L482.80 171.41L483.30 171.44L483.80 171.48L484.30 171.51L484.80 171.54L485.30 171.58L485.80 171.61L486.30 171.64L486.80 171.68L487.30 171.71L487.80 171.74L488.30 171.78L488.80 171.81L489.30 171.84L489.80 171.88L490.30 171.91L490.80 171.94L491.30 171.98L491.80 172.01L492.30 172.04L492.80 172.08L493.30 172.11L493.80 172.14L494.30 172.18L494.80 172.21L495.30 172.24L495.80 172.28L496.30 172.31L496.80 172.34L497.30 172.38L497.80 172.41L498.30 172.44L498.80 172.48L499.30 172.51L499.80 172.54L500.30 172.58L500.80 172.61L501.30 172.64L501.80 172.68L502.30 172.71L502.80 172.74L503.30 172.78L503.80 172.81L504.30 172.84L504.80 172.88L505.30 172.91L505.80 172.94L506.30 172.98L506.40 172.98" fill="none" stroke="#0000ff" stroke-width="1.8"/>
<path d="M298.80 159.15L299.30 159.18L299.80 159.22L300.30 159.25L300.80 159.28L301.30 159.32L301.80 159.35L302.30 159.38L302.80 159.42L303.30 159.45L303.80 159.48L304.30 159.52L304.80 159.55L305.30 159.58L305.80 159.62L306.30 159.65L306.80 159.68L307.30 159.72L307.80 159.75L308.30 159.78L308.80 159.82L309.30 159.85L309.80 159.88L310.30 159.92L310.80 159.95L311.30 159.98L311.80 160.02L312.30 160.05L312.80 160.08L313.30 160.12L313.80 160.15L314.30 160.18L314.80 160.22L315.30 160.25L315.80 160.28L316.30 160.32L316.80 160.35L317.30 160.38L317.80 160.42L318.30 160.45L318.80 160.48L319.30 160.52L319.80 160.55L320.30 160.58L320.80 160.62L321.30 160.65L321.80 160.68L322.30 160.72L322.80 160.75L323.30 160.78L323.80 160.82L324.30 160.85L324.80 160.88L325.30 160.92L325.80 160.95L326.30 160.98L326.80 161.02L327.30 161.05L327.80 161.08L328.30 161.12L328.80 161.15L329.30 161.18L329.80 161.22L330.30 161.25L330.80 161.28L331.30 161.32L331.80 161.35L332.30 161.38L332.80 161.42L333.30 161.45L333.80 161.48L334.30 161.52L334.80 161.55L335.30 161.58L335.80 161.62L336.30 161.65L336.80 161.68L337.30 161.72L337.80 161.75L338.30 161.78L338.80 161.82L339.30 161.85L339.80 161.88L340.30 161.92L340.80 161.95L341.30 161.98L341.80 162.02L342.30 162.05L342.80 162.08L343.30 162.12L343.80 162.15L344.30 162.18L344.80 162.22L345.30 162.25L345.80 162.28L346.30 162.32L346.80 162.35L347.30 162.38L347.80 162.42L348.30 162.45L348.80 162.48L349.30 162.51L349.80 162.55L350.30 162.58L350.80 162.61L351.30 162.65L351.80 162.68L352.30 162.71L352.80 162.75L353.30 162.78L353.80 162.81L354.30 162.85L354.80 162.88L355.30 162.91L355.80 162.95L356.30 162.98L356.80 163.01L357.30 163.05L357.80 163.08L358.30 163.11L358.80 163.15L359.30 163.18L359.80 163.21L360.30 163.25L360.80 163.28L361.30 163.31L361.80 163.35L362.30 163.38L362.80 163.41L363.30 163.45L363.80 163.48L364.30 163.51L364.80 163.55L365.30 163.58L365.80 163.61L366.30 163.65L366.80 163.68L367.30 163.71L367.80 163.75L368.30 163.78L368.80 163.81L369.30 163.85L369.80 163.88L370.30 163.91L370.80 163.95L371.30 163.98L371.80 164.01L372.30 164.05L372.80 164.08L373.30 164.11L373.80 164.15L374.30 164.18L374.80 164.21L375.30 164.25L375.80 164.28L376.30 164.31L376.80 164.35L377.30 164.38L377.80 164.41L378.30 164.45L378.80 164.48L379.30 164.51L379.80 164.55L380.30 164.58L380.80 164.61L381.30 164.65L381.80 164.68L382.30 164.71L382.80 164.75L383.30 164.78L383.80 164.81L384.30 164.85L384.80 164.88L385.30 164.91L385.80 164.95L386.30 164.98L386.80 165.01L387.30 165.05L387.80 165.08L388.30 165.11L388.80 165.15L389.30 165.18L389.80 165.21L390.30 165.25L390.80 165.28L391.30 165.31L391.80 165.35L392.30 165.38L392.80 165.41L393.30 165.45L393.80 165.48L394.30 165.51L394.80 165.54L395.30 165.58L395.80 165.61L396.30 165.64L396.80 165.67L397.30 165.71L397.80 165.74L398.30 165.77L398.80 165.80L399.30 165.84L399.80 165.87L400.30 165.90L400.80 165.93L401.30 165.96L401.80 165.99L402.30 166.02L402.80 166.05L403.30 166.08L403.80 166.11L404.30 166.13L404.80 166.16L405.30 166.19L405.80 166.21L406.30 166.24L406.80 166.26L407.30 166.28L407.80 166.30L408.30 166.32L408.80 166.34L409.30 166.35L409.80 166.36L410.30 166.37L410.80 166.38L411.30 166.39L411.80 166.39L412.30 166.38L412.80 166.38L413.30 166.37L413.80 166.35L414.30 166.33L414.80 166.30L415.30 166.27L415.80 166.23L416.30 166.19L416.80 166.13L417.30 166.07L417.80 166.00L418.30 165.92L418.80 165.82L419.30 165.72L419.80 165.60L420.30 165.47L420.80 165.33L421.30 165.17L421.80 164.99L422.30 164.80L422.80 164.59L423.30 164.36L423.80 164.11L424.30 163.83L424.80 163.53L425.30 163.21L425.80 162.86L426.30 162.49L426.80 162.09L427.30 161.65L427.80 161.19L428.30 160.69L428.80 160.16L429.30 159.59L429.80 158.98L430.30 158.34L430.80 157.66L431.30 156.94L431.80 156.17L432.30 155.37L432.80 154.51L433.30 153.62L433.80 152.68L434.30 151.69L434.80 150.65L435.30 149.57L435.80 148.44L436.30 147.27L436.80 146.04L437.30 144.77L437.80 143.45L438.30 142.08L438.80 140.66L439.30 139.20L439.80 137.70L440.30 136.15L440.80 134.57L441.30 132.94L441.80 131.27L442.30 129.58L442.80 127.84L443.30 126.08L443.80 124.29L444.30 122.48L444.80 120.65L445.30 118.80L445.80 116.93L446.30 115.06L446.80 113.19L447.30 111.31L447.80 109.44L448.30 107.57L448.80 105.72L449.30 103.89L449.80 102.08L450.30 100.30L450.80 98.55L451.30 96.85L451.80 95.18L452.30 93.57L452.80 92.00L453.30 90.50L453.80 89.06L454.30 87.68L454.80 86.38L455.30 85.16L455.80 84.01L456.30 82.96L456.80 81.99L457.30 81.11L457.80 80.32L458.30 79.63L458.80 79.05L459.30 78.56L459.80 78.18L460.30 77.91L460.80 77.74L461.30 77.67L461.80 77.72L462.30 77.88L462.80 78.17L463.30 78.56L463.80 79.07L464.30 79.70L464.80 80.44L465.30 81.28L465.80 82.23L466.30 83.28L466.80 84.43L467.30 85.67L467.80 87.00L468.30 88.42L468.80 89.92L469.30 91.49L469.80 93.13L470.30 94.84L470.80 96.60L471.30 98.42L471.80 100.28L472.30 102.18L472.80 104.12L473.30 106.09L473.80 108.09L474.30 110.10L474.80 112.12L475.30 114.15L475.80 116.19L476.30 118.22L476.80 120.24L477.30 122.25L477.80 124.24L478.30 126.21L478.80 128.16L479.30 130.07L479.80 131.96L480.30 133.81L480.80 135.62L481.30 137.39L481.80 139.11L482.30 140.79L482.80 142.43L483.30 144.01L483.80 145.55L484.30 147.03L484.80 148.46L485.30 149.84L485.80 151.17L486.30 152.44L486.80 153.67L487.30 154.84L487.80 155.96L488.30 157.02L488.80 158.04L489.30 159.01L489.80 159.93L490.30 160.80L490.80 161.63L491.30 162.41L491.80 163.15L492.30 163.85L492.80 164.51L493.30 165.13L493.80 165.71L494.30 166.25L494.80 166.77L495.30 167.25L495.80 167.70L496.30 168.12L496.80 168.51L497.30 168.87L497.80 169.22L498.30 169.53L498.80 169.83L499.30 170.10L499.80 170.36L500.30 170.60L500.80 170.82L501.30 171.02L501.80 171.22L502.30 171.39L502.80 171.56L503.30 171.71L503.80 171.85L504.30 171.98L504.80 172.11L505.30 172.22L505.80 172.33L506.30 172.43L506.40 172.45" fill="none" stroke="#078a80" stroke-width="1.8"/>
<path d="M298.80 155.52L299.30 155.49L299.80 155.47L300.30 155.45L300.80 155.42L301.30 155.39L301.80 155.36L302.30 155.33L302.80 155.30L303.30 155.26L303.80 155.23L304.30 155.19L304.80 155.15L305.30 155.11L305.80 155.07L306.30 155.02L306.80 154.98L307.30 154.93L307.80 154.88L308.30 154.83L308.80 154.77L309.30 154.72L309.80 154.66L310.30 154.60L310.80 154.54L311.30 154.47L311.80 154.41L312.30 154.34L312.80 154.27L313.30 154.20L313.80 154.12L314.30 154.04L314.80 153.96L315.30 153.88L315.80 153.80L316.30 153.71L316.80 153.62L317.30 153.53L317.80 153.43L318.30 153.33L318.80 153.23L319.30 153.13L319.80 153.03L320.30 152.92L320.80 152.81L321.30 152.69L321.80 152.57L322.30 152.45L322.80 152.33L323.30 152.20L323.80 152.08L324.30 151.94L324.80 151.81L325.30 151.67L325.80 151.53L326.30 151.38L326.80 151.23L327.30 151.08L327.80 150.93L328.30 150.77L328.80 150.61L329.30 150.44L329.80 150.28L330.30 150.10L330.80 149.93L331.30 149.75L331.80 149.57L332.30 149.38L332.80 149.20L333.30 149.00L333.80 148.81L334.30 148.61L334.80 148.41L335.30 148.20L335.80 147.99L336.30 147.78L336.80 147.56L337.30 147.34L337.80 147.12L338.30 146.89L338.80 146.66L339.30 146.42L339.80 146.18L340.30 145.94L340.80 145.70L341.30 145.45L341.80 145.19L342.30 144.94L342.80 144.68L343.30 144.42L343.80 144.15L344.30 143.88L344.80 143.61L345.30 143.33L345.80 143.05L346.30 142.77L346.80 142.48L347.30 142.20L347.80 141.90L348.30 141.61L348.80 141.31L349.30 141.01L349.80 140.71L350.30 140.40L350.80 140.09L351.30 139.78L351.80 139.46L352.30 139.14L352.80 138.82L353.30 138.50L353.80 138.18L354.30 137.85L354.80 137.52L355.30 137.19L355.80 136.85L356.30 136.52L356.80 136.18L357.30 135.84L357.80 135.50L358.30 135.16L358.80 134.81L359.30 134.47L359.80 134.12L360.30 133.77L360.80 133.43L361.30 133.08L361.80 132.73L362.30 132.38L362.80 132.02L363.30 131.67L363.80 131.32L364.30 130.97L364.80 130.62L365.30 130.27L365.80 129.92L366.30 129.57L366.80 129.22L367.30 128.87L367.80 128.52L368.30 128.18L368.80 127.83L369.30 127.49L369.80 127.15L370.30 126.81L370.80 126.47L371.30 126.13L371.80 125.80L372.30 125.47L372.80 125.15L373.30 124.82L373.80 124.50L374.30 124.19L374.80 123.87L375.30 123.57L375.80 123.26L376.30 122.96L376.80 122.67L377.30 122.37L377.80 122.09L378.30 121.81L378.80 121.53L379.30 121.27L379.80 121.00L380.30 120.75L380.80 120.50L381.30 120.25L381.80 120.02L382.30 119.79L382.80 119.56L383.30 119.35L383.80 119.14L384.30 118.94L384.80 118.75L385.30 118.57L385.80 118.40L386.30 118.23L386.80 118.08L387.30 117.93L387.80 117.79L388.30 117.66L388.80 117.54L389.30 117.43L389.80 117.33L390.30 117.25L390.80 117.17L391.30 117.10L391.80 117.04L392.30 116.99L392.80 116.95L393.30 116.93L393.80 116.91L394.30 116.90L394.80 116.91L395.30 116.93L395.80 116.95L396.30 116.99L396.80 117.04L397.30 117.10L397.80 117.18L398.30 117.26L398.80 117.36L399.30 117.47L399.80 117.59L400.30 117.73L400.80 117.87L401.30 118.03L401.80 118.20L402.30 118.38L402.80 118.57L403.30 118.77L403.80 118.98L404.30 119.20L404.80 119.43L405.30 119.68L405.80 119.93L406.30 120.19L406.80 120.46L407.30 120.74L407.80 121.03L408.30 121.33L408.80 121.63L409.30 121.95L409.80 122.27L410.30 122.60L410.80 122.93L411.30 123.28L411.80 123.63L412.30 123.98L412.80 124.35L413.30 124.72L413.80 125.09L414.30 125.47L414.80 125.86L415.30 126.25L415.80 126.64L416.30 127.04L416.80 127.45L417.30 127.86L417.80 128.27L418.30 128.68L418.80 129.10L419.30 129.52L419.80 129.95L420.30 130.37L420.80 130.80L421.30 131.23L421.80 131.67L422.30 132.10L422.80 132.54L423.30 132.97L423.80 133.41L424.30 133.85L424.80 134.29L425.30 134.73L425.80 135.17L426.30 135.61L426.80 136.05L427.30 136.49L427.80 136.93L428.30 137.37L428.80 137.81L429.30 138.25L429.80 138.68L430.30 139.12L430.80 139.55L431.30 139.99L431.80 140.42L432.30 140.85L432.80 141.27L433.30 141.70L433.80 142.12L434.30 142.54L434.80 142.96L435.30 143.38L435.80 143.79L436.30 144.20L436.80 144.61L437.30 145.02L437.80 145.42L438.30 145.82L438.80 146.22L439.30 146.61L439.80 147.00L440.30 147.39L440.80 147.77L441.30 148.15L441.80 148.53L442.30 148.91L442.80 149.28L443.30 149.64L443.80 150.01L444.30 150.36L444.80 150.72L445.30 151.07L445.80 151.42L446.30 151.76L446.80 152.10L447.30 152.44L447.80 152.77L448.30 153.10L448.80 153.43L449.30 153.75L449.80 154.06L450.30 154.38L450.80 154.69L451.30 154.99L451.80 155.29L452.30 155.59L452.80 155.88L453.30 156.17L453.80 156.46L454.30 156.74L454.80 157.01L455.30 157.29L455.80 157.56L456.30 157.82L456.80 158.08L457.30 158.34L457.80 158.59L458.30 158.84L458.80 159.09L459.30 159.33L459.80 159.57L460.30 159.81L460.80 160.04L461.30 160.26L461.80 160.49L462.30 160.71L462.80 160.93L463.30 161.14L463.80 161.35L464.30 161.55L464.80 161.76L465.30 161.96L465.80 162.15L466.30 162.35L466.80 162.54L467.30 162.72L467.80 162.90L468.30 163.09L468.80 163.26L469.30 163.44L469.80 163.61L470.30 163.77L470.80 163.94L471.30 164.10L471.80 164.26L472.30 164.42L472.80 164.57L473.30 164.72L473.80 164.87L474.30 165.02L474.80 165.16L475.30 165.30L475.80 165.44L476.30 165.58L476.80 165.71L477.30 165.84L477.80 165.97L478.30 166.10L478.80 166.22L479.30 166.34L479.80 166.46L480.30 166.58L480.80 166.70L481.30 166.81L481.80 166.92L482.30 167.04L482.80 167.14L483.30 167.25L483.80 167.36L484.30 167.46L484.80 167.56L485.30 167.66L485.80 167.76L486.30 167.85L486.80 167.95L487.30 168.04L487.80 168.14L488.30 168.23L488.80 168.32L489.30 168.40L489.80 168.49L490.30 168.58L490.80 168.66L491.30 168.74L491.80 168.82L492.30 168.90L492.80 168.98L493.30 169.06L493.80 169.14L494.30 169.21L494.80 169.29L495.30 169.36L495.80 169.44L496.30 169.51L496.80 169.58L497.30 169.65L497.80 169.72L498.30 169.79L498.80 169.85L499.30 169.92L499.80 169.99L500.30 170.05L500.80 170.12L501.30 170.18L501.80 170.24L502.30 170.31L502.80 170.37L503.30 170.43L503.80 170.49L504.30 170.55L504.80 170.61L505.30 170.67L505.80 170.73L506.30 170.78L506.40 170.79" fill="none" stroke="#ff00ff" stroke-width="1.8"/>
<path d="M26.40 365.40L29.20 367.50L30.60 369.60L31.90 365.40L34.00 364.70L36.10 366.10L37.50 363.30L38.90 365.40L40.30 366.80L41.70 364.00L43.75 363.30L45.80 365.40L47.20 362.60L49.30 361.25L51.40 357.80L52.80 359.20L54.20 359.90L56.25 361.90L58.30 358.50L59.70 359.20L61.10 361.25L62.50 364.70L63.90 361.25L66.00 357.10L68.10 355.00L69.40 355.70L71.50 355.00L72.90 357.10L74.30 355.70L76.40 352.90L77.80 355.00L79.90 352.90L81.90 351.50L82.80 350.30L84.90 348.20L86.90 349.60L88.30 346.80L90.40 343.30L91.80 346.80L93.20 344.00L94.60 344.70L96.00 340.60L97.40 336.40L98.75 339.90L100.10 336.40L102.20 335.70L104.30 334.30L106.40 336.40L107.80 334.30L109.20 333.60L110.60 331.50L112.60 329.40L114.70 328.10L116.10 330.10L118.20 328.10L120.30 326.70L122.40 326.00L124.40 324.60L126.50 328.75L127.90 325.30L129.30 323.20L130.70 323.90L132.10 323.20L133.50 326.70L135.60 327.40L137.10 327.80L139.20 327.80L140.60 331.90L141.90 336.10L144.00 333.30L145.40 334.70L146.80 339.60L148.90 338.20L150.30 340.30L152.40 342.40L153.75 344.40L155.80 340.30L157.20 338.90L158.60 341.70L160.00 336.80L162.10 336.80L163.50 334.70L164.90 335.40L166.25 333.30L167.60 329.90L169.00 334.00L169.70 327.80L171.36 320.68L173.01 318.25L174.67 314.04L176.32 308.80L177.98 304.86L179.63 300.18L181.29 295.85L182.94 291.46L184.60 289.20L186.00 284.60L187.20 281.20L188.40 280.60L189.60 282.30L190.20 276.50L190.70 273.80L191.50 275.40L193.60 276.20L194.80 277.60L196.49 279.66L198.19 283.79L199.88 291.06L201.57 297.18L203.27 305.73L204.96 312.60L206.65 321.88L208.35 330.56L210.04 337.36L211.73 346.23L213.43 353.23L215.12 358.03L216.81 363.77L218.51 369.60L220.20 372.10L221.90 377.30L224.50 379.90L226.23 380.96L227.97 380.62L229.70 380.80L232.30 379.90L235.80 384.30L238.40 385.10L241.90 384.30L245.40 382.50L248.80 385.10L250.60 387.70L252.30 382.50L254.90 384.30L256.70 380.80L258.40 379.90L260.10 383.40L262.70 385.10L264.50 384.60" fill="none" stroke="#000" stroke-width="1.6" stroke-linejoin="round"/>
<path d="M133.60 328.59L134.10 328.84L134.60 329.12L135.10 329.43L135.60 329.75L136.10 330.10L136.60 330.46L137.10 330.83L137.60 331.20L138.10 331.58L138.60 331.95L139.10 332.32L139.60 332.69L140.10 333.05L140.60 333.41L141.10 333.77L141.60 334.13L142.10 334.49L142.60 334.84L143.10 335.19L143.60 335.55L144.10 335.90L144.60 336.26L145.10 336.62L145.60 336.97L146.10 337.33L146.60 337.68L147.10 338.03L147.60 338.36L148.10 338.68L148.60 338.99L149.10 339.28L149.60 339.55L150.10 339.81L150.60 340.04L151.10 340.25L151.60 340.45L152.10 340.62L152.60 340.77L153.10 340.90L153.60 341.00L154.10 341.08L154.60 341.13L155.10 341.15L155.60 341.14L156.10 341.09L156.60 341.01L157.10 340.89L157.60 340.74L158.10 340.56L158.60 340.35L159.10 340.11L159.60 339.83L160.10 339.51L160.60 339.16L161.10 338.77L161.60 338.34L162.10 337.86L162.60 337.34L163.10 336.78L163.60 336.19L164.10 335.56L164.60 334.89L165.10 334.20L165.60 333.47L166.10 332.71L166.60 331.92L167.10 331.10L167.60 330.25L168.10 329.36L168.60 328.43L169.10 327.48L169.60 326.49L170.10 325.46L170.60 324.41L171.10 323.33L171.60 322.22L172.10 321.09L172.60 319.93L173.10 318.76L173.60 317.58L174.10 316.38L174.60 315.16L175.10 313.93L175.60 312.68L176.10 311.41L176.60 310.13L177.10 308.82L177.60 307.50L178.10 306.17L178.60 304.81L179.10 303.44L179.60 302.06L180.10 300.66L180.60 299.24L181.10 297.81L181.60 296.37L182.10 294.94L182.60 293.52L183.10 292.11L183.60 290.73L184.10 289.36L184.60 288.03L185.10 286.73L185.60 285.48L186.10 284.27L186.60 283.11L187.10 282.02L187.60 281.00L188.10 280.07L188.60 279.22L189.10 278.47L189.60 277.82L190.10 277.29L190.60 276.88L191.10 276.58L191.60 276.41L192.10 276.36L192.60 276.44L193.10 276.66L193.60 277.00L194.10 277.47L194.60 278.08L195.10 278.82L195.60 279.70L196.10 280.70L196.60 281.84L197.10 283.10L197.60 284.48L198.10 285.99L198.60 287.62L199.10 289.36L199.60 291.23L200.10 293.19L200.60 295.27L201.10 297.43L201.60 299.68L202.10 302.01L202.60 304.40L203.10 306.84L203.60 309.31L204.10 311.80L204.60 314.29L205.10 316.79L205.60 319.27L206.10 321.73L206.60 324.17L207.10 326.58L207.60 328.96L208.10 331.31L208.60 333.62L209.10 335.91L209.60 338.17L210.10 340.39L210.60 342.60L211.10 344.77L211.60 346.91L212.10 349.02L212.60 351.10L213.10 353.13L213.60 355.11L214.10 357.03L214.60 358.89L215.10 360.68L215.60 362.40L216.10 364.04L216.60 365.60L217.10 367.07L217.60 368.45L218.10 369.75L218.60 370.95L219.10 372.07L219.60 373.10L220.10 374.04L220.60 374.90L221.10 375.67L221.60 376.38L222.10 377.02L222.60 377.59L223.10 378.11L223.60 378.57L224.10 378.99L224.60 379.37L225.10 379.71L225.60 380.01L226.10 380.27L226.60 380.51L227.10 380.72L227.60 380.91L228.10 381.08L228.60 381.24L229.10 381.38L229.60 381.51L230.10 381.64L230.60 381.75L231.10 381.85L231.60 381.94L232.10 382.01L232.60 382.07L233.10 382.12L233.60 382.15L234.10 382.17L234.60 382.17L235.10 382.17L235.60 382.17L236.10 382.17L236.60 382.17L237.10 382.19" fill="none" stroke="#ff0000" stroke-width="1.8"/>
<path d="M25.60 366.95L26.10 367.00L26.60 367.04L27.10 367.08L27.60 367.12L28.10 367.16L28.60 367.20L29.10 367.24L29.60 367.28L30.10 367.32L30.60 367.36L31.10 367.40L31.60 367.44L32.10 367.48L32.60 367.52L33.10 367.56L33.60 367.60L34.10 367.64L34.60 367.68L35.10 367.72L35.60 367.76L36.10 367.80L36.60 367.84L37.10 367.89L37.60 367.93L38.10 367.97L38.60 368.01L39.10 368.05L39.60 368.09L40.10 368.13L40.60 368.17L41.10 368.21L41.60 368.25L42.10 368.29L42.60 368.33L43.10 368.37L43.60 368.41L44.10 368.45L44.60 368.49L45.10 368.53L45.60 368.57L46.10 368.61L46.60 368.65L47.10 368.69L47.60 368.73L48.10 368.77L48.60 368.82L49.10 368.86L49.60 368.90L50.10 368.94L50.60 368.98L51.10 369.02L51.60 369.06L52.10 369.10L52.60 369.14L53.10 369.18L53.60 369.22L54.10 369.26L54.60 369.30L55.10 369.34L55.60 369.38L56.10 369.42L56.60 369.46L57.10 369.50L57.60 369.54L58.10 369.58L58.60 369.62L59.10 369.66L59.60 369.71L60.10 369.75L60.60 369.79L61.10 369.83L61.60 369.87L62.10 369.91L62.60 369.95L63.10 369.99L63.60 370.03L64.10 370.07L64.60 370.11L65.10 370.15L65.60 370.19L66.10 370.23L66.60 370.27L67.10 370.31L67.60 370.35L68.10 370.39L68.60 370.43L69.10 370.47L69.60 370.51L70.10 370.55L70.60 370.59L71.10 370.64L71.60 370.68L72.10 370.72L72.60 370.76L73.10 370.80L73.60 370.84L74.10 370.88L74.60 370.92L75.10 370.96L75.60 371.00L76.10 371.04L76.60 371.08L77.10 371.12L77.60 371.16L78.10 371.20L78.60 371.24L79.10 371.28L79.60 371.32L80.10 371.36L80.60 371.40L81.10 371.44L81.60 371.48L82.10 371.52L82.60 371.57L83.10 371.61L83.60 371.65L84.10 371.69L84.60 371.73L85.10 371.77L85.60 371.81L86.10 371.85L86.60 371.89L87.10 371.93L87.60 371.97L88.10 372.01L88.60 372.05L89.10 372.09L89.60 372.13L90.10 372.17L90.60 372.21L91.10 372.25L91.60 372.29L92.10 372.33L92.60 372.37L93.10 372.41L93.60 372.46L94.10 372.50L94.60 372.54L95.10 372.58L95.60 372.62L96.10 372.66L96.60 372.70L97.10 372.74L97.60 372.78L98.10 372.82L98.60 372.86L99.10 372.90L99.60 372.94L100.10 372.98L100.60 373.02L101.10 373.06L101.60 373.10L102.10 373.14L102.60 373.18L103.10 373.22L103.60 373.26L104.10 373.30L104.60 373.34L105.10 373.39L105.60 373.43L106.10 373.47L106.60 373.51L107.10 373.55L107.60 373.59L108.10 373.63L108.60 373.67L109.10 373.71L109.60 373.75L110.10 373.79L110.60 373.83L111.10 373.87L111.60 373.91L112.10 373.95L112.60 373.99L113.10 374.03L113.60 374.07L114.10 374.11L114.60 374.15L115.10 374.19L115.60 374.23L116.10 374.27L116.60 374.32L117.10 374.36L117.60 374.40L118.10 374.44L118.60 374.48L119.10 374.52L119.60 374.56L120.10 374.60L120.60 374.64L121.10 374.68L121.60 374.72L122.10 374.76L122.60 374.80L123.10 374.84L123.60 374.88L124.10 374.92L124.60 374.96L125.10 375.00L125.60 375.04L126.10 375.08L126.60 375.12L127.10 375.16L127.60 375.21L128.10 375.25L128.60 375.29L129.10 375.33L129.60 375.37L130.10 375.41L130.60 375.45L131.10 375.49L131.60 375.53L132.10 375.57L132.60 375.61L133.10 375.65L133.60 375.69L134.10 375.73L134.60 375.77L135.10 375.81L135.60 375.85L136.10 375.89L136.60 375.93L137.10 375.97L137.60 376.01L138.10 376.05L138.60 376.09L139.10 376.14L139.60 376.18L140.10 376.22L140.60 376.26L141.10 376.30L141.60 376.34L142.10 376.38L142.60 376.42L143.10 376.46L143.60 376.50L144.10 376.54L144.60 376.58L145.10 376.62L145.60 376.66L146.10 376.70L146.60 376.74L147.10 376.78L147.60 376.82L148.10 376.86L148.60 376.90L149.10 376.94L149.60 376.98L150.10 377.02L150.60 377.07L151.10 377.11L151.60 377.15L152.10 377.19L152.60 377.23L153.10 377.27L153.60 377.31L154.10 377.35L154.60 377.39L155.10 377.43L155.60 377.47L156.10 377.51L156.60 377.55L157.10 377.59L157.60 377.63L158.10 377.67L158.60 377.71L159.10 377.75L159.60 377.79L160.10 377.83L160.60 377.87L161.10 377.91L161.60 377.96L162.10 378.00L162.60 378.04L163.10 378.08L163.60 378.12L164.10 378.16L164.60 378.20L165.10 378.24L165.60 378.28L166.10 378.32L166.60 378.36L167.10 378.40L167.60 378.44L168.10 378.48L168.60 378.52L169.10 378.56L169.60 378.60L170.10 378.64L170.60 378.68L171.10 378.72L171.60 378.76L172.10 378.80L172.60 378.84L173.10 378.89L173.60 378.93L174.10 378.97L174.60 379.01L175.10 379.05L175.60 379.09L176.10 379.13L176.60 379.17L177.10 379.21L177.60 379.25L178.10 379.29L178.60 379.33L179.10 379.37L179.60 379.41L180.10 379.45L180.60 379.49L181.10 379.53L181.60 379.57L182.10 379.61L182.60 379.65L183.10 379.69L183.60 379.73L184.10 379.77L184.60 379.82L185.10 379.86L185.60 379.90L186.10 379.94L186.60 379.98L187.10 380.02L187.60 380.06L188.10 380.10L188.60 380.14L189.10 380.18L189.60 380.22L190.10 380.26L190.60 380.30L191.10 380.34L191.60 380.38L192.10 380.42L192.60 380.46L193.10 380.50L193.60 380.54L194.10 380.58L194.60 380.62L195.10 380.66L195.60 380.71L196.10 380.75L196.60 380.79L197.10 380.83L197.60 380.87L198.10 380.91L198.60 380.95L199.10 380.99L199.60 381.03L200.10 381.07L200.60 381.11L201.10 381.15L201.60 381.19L202.10 381.23L202.60 381.27L203.10 381.31L203.60 381.35L204.10 381.39L204.60 381.43L205.10 381.47L205.60 381.51L206.10 381.55L206.60 381.59L207.10 381.64L207.60 381.68L208.10 381.72L208.60 381.76L209.10 381.80L209.60 381.84L210.10 381.88L210.60 381.92L211.10 381.96L211.60 382.00L212.10 382.04L212.60 382.08L213.10 382.12L213.60 382.16L214.10 382.20L214.60 382.24L215.10 382.28L215.60 382.32L216.10 382.36L216.60 382.40L217.10 382.44L217.60 382.48L218.10 382.53L218.60 382.57L219.10 382.61L219.60 382.65L220.10 382.69L220.60 382.73L221.10 382.77L221.60 382.81L222.10 382.85L222.60 382.89L223.10 382.93L223.60 382.97L224.10 383.01L224.60 383.05L225.10 383.09L225.60 383.13L226.10 383.17L226.60 383.21L227.10 383.25L227.60 383.29L228.10 383.33L228.60 383.37L229.10 383.41L229.60 383.46L230.10 383.50L230.60 383.54L231.10 383.58L231.60 383.62L232.10 383.66L232.60 383.70L233.10 383.74L233.60 383.78L234.10 383.82L234.60 383.86L235.10 383.90L235.60 383.94L236.10 383.98L236.60 384.02L237.10 384.06L237.60 384.10L238.10 384.14L238.60 384.18L239.10 384.22L239.60 384.26L240.10 384.30L240.60 384.34L241.10 384.39L241.60 384.43L242.10 384.47L242.60 384.51L243.10 384.55L243.60 384.59L244.10 384.63L244.60 384.67L245.10 384.71L245.60 384.75L246.10 384.79L246.60 384.83L247.10 384.87L247.60 384.91L248.10 384.95L248.60 384.99L249.10 385.03L249.60 385.07L250.10 385.11L250.60 385.15L251.10 385.19L251.60 385.23L252.10 385.28L252.60 385.32L253.10 385.36L253.60 385.40L254.10 385.44L254.60 385.48L255.10 385.52L255.60 385.56L256.10 385.60L256.60 385.64L257.10 385.68L257.60 385.72L258.10 385.76L258.60 385.80L259.10 385.84L259.60 385.88L260.10 385.92L260.60 385.96L261.10 386.00L261.60 386.04L262.10 386.08L262.60 386.12L263.10 386.16L263.60 386.21L264.10 386.25L264.50 386.28" fill="none" stroke="#0000ff" stroke-width="1.8"/>
<path d="M25.60 366.95L26.10 367.00L26.60 367.04L27.10 367.08L27.60 367.12L28.10 367.16L28.60 367.20L29.10 367.24L29.60 367.28L30.10 367.32L30.60 367.36L31.10 367.40L31.60 367.44L32.10 367.48L32.60 367.52L33.10 367.56L33.60 367.60L34.10 367.64L34.60 367.68L35.10 367.72L35.60 367.76L36.10 367.80L36.60 367.84L37.10 367.89L37.60 367.93L38.10 367.97L38.60 368.01L39.10 368.05L39.60 368.09L40.10 368.13L40.60 368.17L41.10 368.21L41.60 368.25L42.10 368.29L42.60 368.33L43.10 368.37L43.60 368.41L44.10 368.45L44.60 368.49L45.10 368.53L45.60 368.57L46.10 368.61L46.60 368.65L47.10 368.69L47.60 368.73L48.10 368.77L48.60 368.82L49.10 368.86L49.60 368.90L50.10 368.94L50.60 368.98L51.10 369.02L51.60 369.06L52.10 369.10L52.60 369.14L53.10 369.18L53.60 369.22L54.10 369.26L54.60 369.30L55.10 369.34L55.60 369.38L56.10 369.42L56.60 369.46L57.10 369.50L57.60 369.54L58.10 369.58L58.60 369.62L59.10 369.66L59.60 369.71L60.10 369.75L60.60 369.79L61.10 369.83L61.60 369.87L62.10 369.91L62.60 369.95L63.10 369.99L63.60 370.03L64.10 370.07L64.60 370.11L65.10 370.15L65.60 370.19L66.10 370.23L66.60 370.27L67.10 370.31L67.60 370.35L68.10 370.39L68.60 370.43L69.10 370.47L69.60 370.51L70.10 370.55L70.60 370.59L71.10 370.64L71.60 370.68L72.10 370.72L72.60 370.76L73.10 370.80L73.60 370.84L74.10 370.88L74.60 370.92L75.10 370.96L75.60 371.00L76.10 371.04L76.60 371.08L77.10 371.12L77.60 371.16L78.10 371.20L78.60 371.24L79.10 371.28L79.60 371.32L80.10 371.36L80.60 371.40L81.10 371.44L81.60 371.48L82.10 371.52L82.60 371.57L83.10 371.61L83.60 371.65L84.10 371.69L84.60 371.73L85.10 371.77L85.60 371.81L86.10 371.85L86.60 371.89L87.10 371.93L87.60 371.97L88.10 372.01L88.60 372.05L89.10 372.09L89.60 372.13L90.10 372.17L90.60 372.21L91.10 372.25L91.60 372.29L92.10 372.33L92.60 372.37L93.10 372.41L93.60 372.46L94.10 372.50L94.60 372.54L95.10 372.58L95.60 372.62L96.10 372.66L96.60 372.70L97.10 372.74L97.60 372.78L98.10 372.82L98.60 372.86L99.10 372.90L99.60 372.94L100.10 372.98L100.60 373.02L101.10 373.06L101.60 373.10L102.10 373.14L102.60 373.18L103.10 373.22L103.60 373.26L104.10 373.30L104.60 373.34L105.10 373.39L105.60 373.43L106.10 373.47L106.60 373.51L107.10 373.55L107.60 373.59L108.10 373.63L108.60 373.67L109.10 373.71L109.60 373.75L110.10 373.79L110.60 373.83L111.10 373.87L111.60 373.91L112.10 373.95L112.60 373.99L113.10 374.03L113.60 374.07L114.10 374.11L114.60 374.15L115.10 374.19L115.60 374.23L116.10 374.27L116.60 374.32L117.10 374.36L117.60 374.40L118.10 374.44L118.60 374.48L119.10 374.52L119.60 374.56L120.10 374.60L120.60 374.64L121.10 374.68L121.60 374.72L122.10 374.76L122.60 374.80L123.10 374.84L123.60 374.88L124.10 374.92L124.60 374.96L125.10 375.00L125.60 375.04L126.10 375.08L126.60 375.12L127.10 375.16L127.60 375.21L128.10 375.25L128.60 375.29L129.10 375.33L129.60 375.37L130.10 375.41L130.60 375.45L131.10 375.49L131.60 375.53L132.10 375.57L132.60 375.61L133.10 375.65L133.60 375.69L134.10 375.73L134.60 375.77L135.10 375.81L135.60 375.85L136.10 375.89L136.60 375.93L137.10 375.97L137.60 376.01L138.10 376.05L138.60 376.09L139.10 376.14L139.60 376.18L140.10 376.22L140.60 376.26L141.10 376.30L141.60 376.34L142.10 376.38L142.60 376.42L143.10 376.46L143.60 376.50L144.10 376.54L144.60 376.58L145.10 376.62L145.60 376.66L146.10 376.70L146.60 376.74L147.10 376.78L147.60 376.82L148.10 376.86L148.60 376.90L149.10 376.94L149.60 376.98L150.10 377.02L150.60 377.06L151.10 377.09L151.60 377.13L152.10 377.17L152.60 377.21L153.10 377.24L153.60 377.28L154.10 377.31L154.60 377.35L155.10 377.38L155.60 377.41L156.10 377.44L156.60 377.47L157.10 377.49L157.60 377.52L158.10 377.53L158.60 377.55L159.10 377.56L159.60 377.57L160.10 377.57L160.60 377.57L161.10 377.56L161.60 377.54L162.10 377.52L162.60 377.48L163.10 377.44L163.60 377.38L164.10 377.31L164.60 377.22L165.10 377.12L165.60 377.00L166.10 376.86L166.60 376.70L167.10 376.52L167.60 376.30L168.10 376.07L168.60 375.80L169.10 375.49L169.60 375.15L170.10 374.78L170.60 374.36L171.10 373.89L171.60 373.38L172.10 372.82L172.60 372.21L173.10 371.54L173.60 370.81L174.10 370.03L174.60 369.17L175.10 368.26L175.60 367.27L176.10 366.22L176.60 365.09L177.10 363.90L177.60 362.63L178.10 361.28L178.60 359.86L179.10 358.37L179.60 356.81L180.10 355.18L180.60 353.48L181.10 351.72L181.60 349.89L182.10 348.01L182.60 346.07L183.10 344.09L183.60 342.07L184.10 340.01L184.60 337.93L185.10 335.83L185.60 333.72L186.10 331.60L186.60 329.50L187.10 327.41L187.60 325.35L188.10 323.33L188.60 321.36L189.10 319.45L189.60 317.61L190.10 315.85L190.60 314.18L191.10 312.61L191.60 311.15L192.10 309.81L192.60 308.60L193.10 307.52L193.60 306.58L194.10 305.79L194.60 305.16L195.10 304.68L195.60 304.37L196.10 304.21L196.60 304.22L197.10 304.39L197.60 304.71L198.10 305.19L198.60 305.82L199.10 306.59L199.60 307.51L200.10 308.56L200.60 309.75L201.10 311.06L201.60 312.48L202.10 314.02L202.60 315.66L203.10 317.39L203.60 319.20L204.10 321.09L204.60 323.04L205.10 325.04L205.60 327.09L206.10 329.18L206.60 331.29L207.10 333.42L207.60 335.55L208.10 337.69L208.60 339.81L209.10 341.92L209.60 344.00L210.10 346.05L210.60 348.06L211.10 350.03L211.60 351.95L212.10 353.82L212.60 355.63L213.10 357.38L213.60 359.06L214.10 360.68L214.60 362.24L215.10 363.72L215.60 365.14L216.10 366.48L216.60 367.76L217.10 368.97L217.60 370.11L218.10 371.18L218.60 372.19L219.10 373.13L219.60 374.02L220.10 374.84L220.60 375.61L221.10 376.32L221.60 376.99L222.10 377.60L222.60 378.16L223.10 378.69L223.60 379.17L224.10 379.61L224.60 380.01L225.10 380.39L225.60 380.73L226.10 381.04L226.60 381.32L227.10 381.58L227.60 381.82L228.10 382.04L228.60 382.24L229.10 382.42L229.60 382.58L230.10 382.73L230.60 382.87L231.10 383.00L231.60 383.12L232.10 383.22L232.60 383.32L233.10 383.42L233.60 383.50L234.10 383.58L234.60 383.66L235.10 383.73L235.60 383.79L236.10 383.85L236.60 383.91L237.10 383.97L237.60 384.02L238.10 384.08L238.60 384.13L239.10 384.18L239.60 384.22L240.10 384.27L240.60 384.32L241.10 384.36L241.60 384.41L242.10 384.45L242.60 384.49L243.10 384.54L243.60 384.58L244.10 384.62L244.60 384.66L245.10 384.70L245.60 384.75L246.10 384.79L246.60 384.83L247.10 384.87L247.60 384.91L248.10 384.95L248.60 384.99L249.10 385.03L249.60 385.07L250.10 385.11L250.60 385.15L251.10 385.19L251.60 385.23L252.10 385.27L252.60 385.32L253.10 385.36L253.60 385.40L254.10 385.44L254.60 385.48L255.10 385.52L255.60 385.56L256.10 385.60L256.60 385.64L257.10 385.68L257.60 385.72L258.10 385.76L258.60 385.80L259.10 385.84L259.60 385.88L260.10 385.92L260.60 385.96L261.10 386.00L261.60 386.04L262.10 386.08L262.60 386.12L263.10 386.16L263.60 386.21L264.10 386.25L264.50 386.28" fill="none" stroke="#078a80" stroke-width="1.8"/>
<path d="M25.60 366.95L26.10 367.00L26.60 367.04L27.10 367.08L27.60 367.12L28.10 367.16L28.60 367.20L29.10 367.24L29.60 367.28L30.10 367.32L30.60 367.36L31.10 367.40L31.60 367.44L32.10 367.48L32.60 367.52L33.10 367.56L33.60 367.60L34.10 367.64L34.60 367.68L35.10 367.72L35.60 367.76L36.10 367.80L36.60 367.84L37.10 367.89L37.60 367.93L38.10 367.97L38.60 368.01L39.10 368.05L39.60 368.09L40.10 368.13L40.60 368.17L41.10 368.21L41.60 368.25L42.10 368.29L42.60 368.33L43.10 368.37L43.60 368.41L44.10 368.45L44.60 368.49L45.10 368.53L45.60 368.57L46.10 368.61L46.60 368.65L47.10 368.69L47.60 368.73L48.10 368.77L48.60 368.82L49.10 368.86L49.60 368.90L50.10 368.94L50.60 368.98L51.10 369.02L51.60 369.06L52.10 369.10L52.60 369.14L53.10 369.18L53.60 369.22L54.10 369.26L54.60 369.30L55.10 369.34L55.60 369.38L56.10 369.42L56.60 369.46L57.10 369.50L57.60 369.54L58.10 369.58L58.60 369.62L59.10 369.66L59.60 369.71L60.10 369.75L60.60 369.79L61.10 369.83L61.60 369.87L62.10 369.91L62.60 369.95L63.10 369.99L63.60 370.03L64.10 370.07L64.60 370.11L65.10 370.15L65.60 370.19L66.10 370.23L66.60 370.27L67.10 370.31L67.60 370.35L68.10 370.39L68.60 370.43L69.10 370.47L69.60 370.51L70.10 370.55L70.60 370.59L71.10 370.64L71.60 370.68L72.10 370.72L72.60 370.76L73.10 370.80L73.60 370.84L74.10 370.88L74.60 370.92L75.10 370.96L75.60 371.00L76.10 371.04L76.60 371.08L77.10 371.12L77.60 371.16L78.10 371.20L78.60 371.24L79.10 371.28L79.60 371.32L80.10 371.36L80.60 371.40L81.10 371.44L81.60 371.48L82.10 371.52L82.60 371.57L83.10 371.61L83.60 371.65L84.10 371.69L84.60 371.73L85.10 371.77L85.60 371.81L86.10 371.85L86.60 371.89L87.10 371.93L87.60 371.97L88.10 372.01L88.60 372.05L89.10 372.09L89.60 372.13L90.10 372.17L90.60 372.21L91.10 372.25L91.60 372.29L92.10 372.33L92.60 372.37L93.10 372.41L93.60 372.46L94.10 372.50L94.60 372.54L95.10 372.58L95.60 372.62L96.10 372.66L96.60 372.70L97.10 372.74L97.60 372.78L98.10 372.82L98.60 372.86L99.10 372.90L99.60 372.94L100.10 372.98L100.60 373.02L101.10 373.06L101.60 373.10L102.10 373.14L102.60 373.18L103.10 373.22L103.60 373.26L104.10 373.30L104.60 373.34L105.10 373.39L105.60 373.43L106.10 373.47L106.60 373.51L107.10 373.55L107.60 373.59L108.10 373.63L108.60 373.67L109.10 373.71L109.60 373.75L110.10 373.79L110.60 373.83L111.10 373.87L111.60 373.91L112.10 373.95L112.60 373.99L113.10 374.03L113.60 374.07L114.10 374.11L114.60 374.15L115.10 374.19L115.60 374.23L116.10 374.27L116.60 374.32L117.10 374.36L117.60 374.40L118.10 374.44L118.60 374.48L119.10 374.52L119.60 374.56L120.10 374.60L120.60 374.64L121.10 374.68L121.60 374.72L122.10 374.76L122.60 374.80L123.10 374.84L123.60 374.88L124.10 374.92L124.60 374.96L125.10 375.00L125.60 375.04L126.10 375.08L126.60 375.12L127.10 375.16L127.60 375.20L128.10 375.24L128.60 375.28L129.10 375.32L129.60 375.36L130.10 375.39L130.60 375.43L131.10 375.47L131.60 375.51L132.10 375.55L132.60 375.58L133.10 375.62L133.60 375.65L134.10 375.69L134.60 375.72L135.10 375.76L135.60 375.79L136.10 375.82L136.60 375.85L137.10 375.87L137.60 375.90L138.10 375.92L138.60 375.95L139.10 375.97L139.60 375.98L140.10 376.00L140.60 376.01L141.10 376.01L141.60 376.02L142.10 376.01L142.60 376.01L143.10 376.00L143.60 375.98L144.10 375.96L144.60 375.93L145.10 375.89L145.60 375.84L146.10 375.79L146.60 375.72L147.10 375.65L147.60 375.56L148.10 375.47L148.60 375.36L149.10 375.23L149.60 375.09L150.10 374.94L150.60 374.77L151.10 374.58L151.60 374.38L152.10 374.15L152.60 373.91L153.10 373.65L153.60 373.36L154.10 373.05L154.60 372.71L155.10 372.35L155.60 371.97L156.10 371.56L156.60 371.12L157.10 370.66L157.60 370.16L158.10 369.64L158.60 369.09L159.10 368.51L159.60 367.90L160.10 367.26L160.60 366.60L161.10 365.90L161.60 365.18L162.10 364.42L162.60 363.65L163.10 362.84L163.60 362.01L164.10 361.16L164.60 360.29L165.10 359.40L165.60 358.49L166.10 357.56L166.60 356.62L167.10 355.68L167.60 354.72L168.10 353.76L168.60 352.79L169.10 351.83L169.60 350.87L170.10 349.91L170.60 348.97L171.10 348.05L171.60 347.14L172.10 346.25L172.60 345.38L173.10 344.55L173.60 343.75L174.10 342.98L174.60 342.25L175.10 341.56L175.60 340.92L176.10 340.33L176.60 339.79L177.10 339.30L177.60 338.87L178.10 338.49L178.60 338.18L179.10 337.92L179.60 337.73L180.10 337.61L180.60 337.55L181.10 337.55L181.60 337.63L182.10 337.78L182.60 338.03L183.10 338.35L183.60 338.75L184.10 339.22L184.60 339.77L185.10 340.39L185.60 341.08L186.10 341.84L186.60 342.65L187.10 343.52L187.60 344.44L188.10 345.41L188.60 346.42L189.10 347.47L189.60 348.55L190.10 349.66L190.60 350.79L191.10 351.94L191.60 353.09L192.10 354.26L192.60 355.43L193.10 356.60L193.60 357.76L194.10 358.91L194.60 360.05L195.10 361.17L195.60 362.27L196.10 363.35L196.60 364.40L197.10 365.42L197.60 366.41L198.10 367.37L198.60 368.30L199.10 369.19L199.60 370.05L200.10 370.86L200.60 371.65L201.10 372.39L201.60 373.10L202.10 373.78L202.60 374.41L203.10 375.01L203.60 375.58L204.10 376.12L204.60 376.62L205.10 377.09L205.60 377.52L206.10 377.93L206.60 378.32L207.10 378.67L207.60 379.00L208.10 379.31L208.60 379.59L209.10 379.86L209.60 380.10L210.10 380.33L210.60 380.54L211.10 380.73L211.60 380.91L212.10 381.07L212.60 381.22L213.10 381.36L213.60 381.50L214.10 381.62L214.60 381.73L215.10 381.83L215.60 381.93L216.10 382.02L216.60 382.10L217.10 382.18L217.60 382.26L218.10 382.33L218.60 382.40L219.10 382.46L219.60 382.52L220.10 382.58L220.60 382.64L221.10 382.69L221.60 382.74L222.10 382.79L222.60 382.84L223.10 382.89L223.60 382.93L224.10 382.98L224.60 383.03L225.10 383.07L225.60 383.11L226.10 383.16L226.60 383.20L227.10 383.24L227.60 383.28L228.10 383.33L228.60 383.37L229.10 383.41L229.60 383.45L230.10 383.49L230.60 383.53L231.10 383.57L231.60 383.62L232.10 383.66L232.60 383.70L233.10 383.74L233.60 383.78L234.10 383.82L234.60 383.86L235.10 383.90L235.60 383.94L236.10 383.98L236.60 384.02L237.10 384.06L237.60 384.10L238.10 384.14L238.60 384.18L239.10 384.22L239.60 384.26L240.10 384.30L240.60 384.34L241.10 384.39L241.60 384.43L242.10 384.47L242.60 384.51L243.10 384.55L243.60 384.59L244.10 384.63L244.60 384.67L245.10 384.71L245.60 384.75L246.10 384.79L246.60 384.83L247.10 384.87L247.60 384.91L248.10 384.95L248.60 384.99L249.10 385.03L249.60 385.07L250.10 385.11L250.60 385.15L251.10 385.19L251.60 385.23L252.10 385.28L252.60 385.32L253.10 385.36L253.60 385.40L254.10 385.44L254.60 385.48L255.10 385.52L255.60 385.56L256.10 385.60L256.60 385.64L257.10 385.68L257.60 385.72L258.10 385.76L258.60 385.80L259.10 385.84L259.60 385.88L260.10 385.92L260.60 385.96L261.10 386.00L261.60 386.04L262.10 386.08L262.60 386.12L263.10 386.16L263.60 386.21L264.10 386.25L264.50 386.28" fill="none" stroke="#ff00ff" stroke-width="1.8"/>
<path d="M25.60 364.30L26.10 364.31L26.60 364.31L27.10 364.32L27.60 364.32L28.10 364.33L28.60 364.33L29.10 364.33L29.60 364.33L30.10 364.33L30.60 364.33L31.10 364.32L31.60 364.32L32.10 364.32L32.60 364.31L33.10 364.30L33.60 364.30L34.10 364.29L34.60 364.27L35.10 364.26L35.60 364.25L36.10 364.23L36.60 364.22L37.10 364.20L37.60 364.18L38.10 364.16L38.60 364.14L39.10 364.12L39.60 364.09L40.10 364.06L40.60 364.04L41.10 364.01L41.60 363.97L42.10 363.94L42.60 363.90L43.10 363.87L43.60 363.83L44.10 363.78L44.60 363.74L45.10 363.70L45.60 363.65L46.10 363.60L46.60 363.55L47.10 363.49L47.60 363.43L48.10 363.38L48.60 363.31L49.10 363.25L49.60 363.18L50.10 363.12L50.60 363.04L51.10 362.97L51.60 362.89L52.10 362.81L52.60 362.73L53.10 362.65L53.60 362.56L54.10 362.47L54.60 362.37L55.10 362.28L55.60 362.18L56.10 362.07L56.60 361.97L57.10 361.86L57.60 361.75L58.10 361.63L58.60 361.51L59.10 361.39L59.60 361.26L60.10 361.13L60.60 361.00L61.10 360.86L61.60 360.72L62.10 360.58L62.60 360.43L63.10 360.28L63.60 360.13L64.10 359.97L64.60 359.81L65.10 359.64L65.60 359.47L66.10 359.30L66.60 359.12L67.10 358.94L67.60 358.75L68.10 358.56L68.60 358.37L69.10 358.17L69.60 357.97L70.10 357.76L70.60 357.56L71.10 357.34L71.60 357.12L72.10 356.90L72.60 356.68L73.10 356.44L73.60 356.21L74.10 355.97L74.60 355.73L75.10 355.48L75.60 355.23L76.10 354.98L76.60 354.72L77.10 354.45L77.60 354.19L78.10 353.92L78.60 353.64L79.10 353.36L79.60 353.08L80.10 352.79L80.60 352.50L81.10 352.21L81.60 351.91L82.10 351.61L82.60 351.30L83.10 350.99L83.60 350.68L84.10 350.36L84.60 350.04L85.10 349.72L85.60 349.39L86.10 349.07L86.60 348.73L87.10 348.40L87.60 348.06L88.10 347.72L88.60 347.37L89.10 347.03L89.60 346.68L90.10 346.32L90.60 345.97L91.10 345.61L91.60 345.26L92.10 344.89L92.60 344.53L93.10 344.17L93.60 343.80L94.10 343.44L94.60 343.07L95.10 342.70L95.60 342.33L96.10 341.96L96.60 341.58L97.10 341.21L97.60 340.84L98.10 340.47L98.60 340.09L99.10 339.72L99.60 339.35L100.10 338.98L100.60 338.61L101.10 338.24L101.60 337.87L102.10 337.51L102.60 337.14L103.10 336.78L103.60 336.42L104.10 336.06L104.60 335.70L105.10 335.35L105.60 335.00L106.10 334.66L106.60 334.32L107.10 333.98L107.60 333.64L108.10 333.32L108.60 332.99L109.10 332.67L109.60 332.36L110.10 332.05L110.60 331.75L111.10 331.45L111.60 331.16L112.10 330.88L112.60 330.60L113.10 330.34L113.60 330.08L114.10 329.82L114.60 329.58L115.10 329.34L115.60 329.12L116.10 328.90L116.60 328.69L117.10 328.49L117.60 328.30L118.10 328.12L118.60 327.95L119.10 327.79L119.60 327.65L120.10 327.51L120.60 327.39L121.10 327.27L121.60 327.17L122.10 327.08L122.60 327.00L123.10 326.94L123.60 326.88L124.10 326.84L124.60 326.81L125.10 326.79L125.60 326.79L126.10 326.80L126.60 326.82L127.10 326.85L127.60 326.90L128.10 326.96L128.60 327.04L129.10 327.13L129.60 327.23L130.10 327.35L130.60 327.48L131.10 327.63L131.60 327.79L132.10 327.96L132.60 328.15L133.10 328.35L133.60 328.56L134.10 328.78L134.60 329.02L135.10 329.27L135.60 329.53L136.10 329.80L136.60 330.08L137.10 330.38L137.60 330.69L138.10 331.00L138.60 331.33L139.10 331.66L139.60 332.01L140.10 332.36L140.60 332.73L141.10 333.10L141.60 333.48L142.10 333.86L142.60 334.26L143.10 334.66L143.60 335.07L144.10 335.48L144.60 335.90L145.10 336.33L145.60 336.76L146.10 337.20L146.60 337.64L147.10 338.09L147.60 338.54L148.10 338.99L148.60 339.45L149.10 339.91L149.60 340.37L150.10 340.84L150.60 341.30L151.10 341.77L151.60 342.25L152.10 342.72L152.60 343.19L153.10 343.67L153.60 344.15L154.10 344.62L154.60 345.10L155.10 345.58L155.60 346.06L156.10 346.53L156.60 347.01L157.10 347.49L157.60 347.96L158.10 348.43L158.60 348.91L159.10 349.38L159.60 349.84L160.10 350.31L160.60 350.78L161.10 351.24L161.60 351.70L162.10 352.16L162.60 352.61L163.10 353.07L163.60 353.52L164.10 353.96L164.60 354.41L165.10 354.85L165.60 355.28L166.10 355.72L166.60 356.15L167.10 356.57L167.60 357.00L168.10 357.41L168.60 357.83L169.10 358.24L169.60 358.65L170.10 359.05L170.60 359.45L171.10 359.84L171.60 360.23L172.10 360.62L172.60 361.00L173.10 361.38L173.60 361.75L174.10 362.12L174.60 362.48L175.10 362.84L175.60 363.20L176.10 363.55L176.60 363.89L177.10 364.24L177.60 364.57L178.10 364.90L178.60 365.23L179.10 365.55L179.60 365.87L180.10 366.18L180.60 366.49L181.10 366.80L181.60 367.10L182.10 367.39L182.60 367.68L183.10 367.97L183.60 368.25L184.10 368.53L184.60 368.80L185.10 369.07L185.60 369.33L186.10 369.59L186.60 369.85L187.10 370.10L187.60 370.35L188.10 370.59L188.60 370.83L189.10 371.06L189.60 371.29L190.10 371.52L190.60 371.74L191.10 371.96L191.60 372.18L192.10 372.39L192.60 372.60L193.10 372.80L193.60 373.00L194.10 373.20L194.60 373.39L195.10 373.58L195.60 373.76L196.10 373.95L196.60 374.13L197.10 374.30L197.60 374.48L198.10 374.65L198.60 374.81L199.10 374.98L199.60 375.14L200.10 375.29L200.60 375.45L201.10 375.60L201.60 375.75L202.10 375.90L202.60 376.04L203.10 376.18L203.60 376.32L204.10 376.46L204.60 376.59L205.10 376.72L205.60 376.85L206.10 376.98L206.60 377.10L207.10 377.23L207.60 377.35L208.10 377.47L208.60 377.58L209.10 377.70L209.60 377.81L210.10 377.92L210.60 378.03L211.10 378.14L211.60 378.24L212.10 378.34L212.60 378.45L213.10 378.55L213.60 378.65L214.10 378.74L214.60 378.84L215.10 378.93L215.60 379.03L216.10 379.12L216.60 379.21L217.10 379.30L217.60 379.39L218.10 379.47L218.60 379.56L219.10 379.64L219.60 379.72L220.10 379.81L220.60 379.89L221.10 379.97L221.60 380.05L222.10 380.12L222.60 380.20L223.10 380.28L223.60 380.35L224.10 380.43L224.60 380.50L225.10 380.57L225.60 380.65L226.10 380.72L226.60 380.79L227.10 380.86L227.60 380.93L228.10 381.00L228.60 381.06L229.10 381.13L229.60 381.20L230.10 381.26L230.60 381.33L231.10 381.39L231.60 381.46L232.10 381.52L232.60 381.59L233.10 381.65L233.60 381.71L234.10 381.77L234.60 381.83L235.10 381.90L235.60 381.96L236.10 382.02L236.60 382.08L237.10 382.14L237.60 382.20L238.10 382.25L238.60 382.31L239.10 382.37L239.60 382.43L240.10 382.49L240.60 382.54L241.10 382.60L241.60 382.66L242.10 382.71L242.60 382.77L243.10 382.82L243.60 382.88L244.10 382.94L244.60 382.99L245.10 383.04L245.60 383.10L246.10 383.15L246.60 383.21L247.10 383.26L247.60 383.32L248.10 383.37L248.60 383.42L249.10 383.48L249.60 383.53L250.10 383.58L250.60 383.63L251.10 383.69L251.60 383.74L252.10 383.79L252.60 383.84L253.10 383.89L253.60 383.95L254.10 384.00L254.60 384.05L255.10 384.10L255.60 384.15L256.10 384.20L256.60 384.25L257.10 384.30L257.60 384.35L258.10 384.40L258.60 384.45L259.10 384.50L259.60 384.55L260.10 384.60L260.60 384.65L261.10 384.70L261.60 384.75L262.10 384.80L262.60 384.85L263.10 384.90L263.60 384.95L264.10 385.00L264.50 385.04" fill="none" stroke="#808000" stroke-width="1.8"/>
<path d="M300.10 384.20L300.80 374.40L302.20 375.80L303.60 384.20L304.90 375.80L306.30 377.20L308.40 375.80L310.50 377.20L312.60 375.10L314.70 376.50L316.75 374.40L318.80 379.30L320.90 373.10L323.00 371.70L325.10 374.40L326.50 369.60L327.90 368.20L329.25 370.30L330.60 366.10L332.70 375.10L334.10 367.50L336.20 364.00L338.30 374.40L340.40 364.70L342.40 364.00L344.50 367.50L346.60 363.30L348.00 356.40L349.40 367.50L350.80 357.80L352.20 361.25L353.60 364.70L354.90 359.90L356.40 362.80L357.80 357.20L359.20 354.40L361.25 348.20L362.60 346.80L364.00 350.30L365.40 358.60L366.80 347.50L368.20 349.60L369.60 345.40L371.00 353.00L372.40 339.90L373.75 338.50L375.10 347.50L376.50 351.70L378.00 345.40L380.10 340.60L381.50 343.40L383.60 342.00L384.90 346.10L386.00 332.25L387.00 333.60L388.40 337.10L389.50 339.90L390.50 335.70L391.90 337.10L392.90 332.25L393.60 331.60L394.70 339.90L396.10 335.00L397.40 333.60L398.50 335.70L399.20 342.70L400.20 331.60L400.90 330.90L402.00 335.00L403.00 339.20L404.00 336.40L404.70 344.00L405.80 344.40L406.80 342.70L408.00 342.00L410.60 344.70L412.60 347.50L414.00 354.40L415.00 352.40L418.00 349.00L420.00 346.75L422.40 350.80L424.10 348.40L425.70 351.60L427.30 344.30L428.90 350.80L430.50 348.40L432.20 345.90L433.80 342.70L435.40 339.50L437.00 333.00L438.60 328.10L439.50 323.20L441.10 326.50L442.70 322.40L443.50 325.10L446.40 314.70L449.30 304.30L450.40 297.40L452.20 291.60L453.30 291.00L454.50 293.90L456.20 292.70L457.40 290.40L458.50 289.30L459.70 291.00L460.80 292.70L461.40 296.20L462.60 286.90L463.10 285.80L464.30 291.60L466.00 295.00L467.20 299.10L468.40 298.50L469.50 304.90L470.70 307.80L471.80 312.40L473.60 318.20L474.70 324.00L475.80 340.60L477.90 343.30L480.00 355.80L482.10 364.20L483.50 376.70L484.90 376.00L487.00 373.90L488.30 376.70L489.70 375.30L490.80 382.90L492.50 382.20L493.90 388.50L496.40 389.20L497.60 388.40L498.40 390.00L500.00 381.60L501.20 383.60L502.00 389.20L503.20 386.40L504.00 389.20L505.60 394.00L507.20 395.60L508.40 392.40L509.20 397.20L510.80 390.00L512.00 388.80L513.20 392.40L514.40 397.20L515.60 391.60L517.20 393.60L518.40 394.40L519.60 388.40L520.80 385.60L521.60 387.20L523.20 385.60L524.40 389.20L525.60 390.40L526.80 392.40L528.40 389.20L529.60 394.00L530.40 397.20L531.60 393.20L533.20 392.80L534.80 391.20L536.40 389.60L537.60 388.80" fill="none" stroke="#000" stroke-width="1.6" stroke-linejoin="round"/>
<path d="M386.30 338.78L386.80 338.62L387.30 338.47L387.80 338.33L388.30 338.20L388.80 338.08L389.30 337.98L389.80 337.88L390.30 337.80L390.80 337.73L391.30 337.67L391.80 337.62L392.30 337.58L392.80 337.55L393.30 337.54L393.80 337.54L394.30 337.55L394.80 337.57L395.30 337.61L395.80 337.66L396.30 337.72L396.80 337.79L397.30 337.88L397.80 337.98L398.30 338.09L398.80 338.22L399.30 338.36L399.80 338.51L400.30 338.67L400.80 338.84L401.30 339.03L401.80 339.22L402.30 339.43L402.80 339.65L403.30 339.87L403.80 340.11L404.30 340.36L404.80 340.62L405.30 340.88L405.80 341.16L406.30 341.44L406.80 341.73L407.30 342.03L407.80 342.34L408.30 342.65L408.80 342.96L409.30 343.29L409.80 343.61L410.30 343.94L410.80 344.28L411.30 344.61L411.80 344.95L412.30 345.29L412.80 345.63L413.30 345.97L413.80 346.31L414.30 346.64L414.80 346.98L415.30 347.31L415.80 347.64L416.30 347.96L416.80 348.28L417.30 348.60L417.80 348.91L418.30 349.21L418.80 349.51L419.30 349.80L419.80 350.08L420.30 350.36L420.80 350.62L421.30 350.87L421.80 351.11L422.30 351.32L422.80 351.51L423.30 351.67L423.80 351.79L424.30 351.87L424.80 351.90L425.30 351.88L425.80 351.82L426.30 351.71L426.80 351.55L427.30 351.35L427.80 351.11L428.30 350.83L428.80 350.51L429.30 350.15L429.80 349.75L430.30 349.29L430.80 348.79L431.30 348.24L431.80 347.64L432.30 346.98L432.80 346.26L433.30 345.48L433.80 344.65L434.30 343.76L434.80 342.83L435.30 341.85L435.80 340.83L436.30 339.77L436.80 338.68L437.30 337.55L437.80 336.39L438.30 335.19L438.80 333.96L439.30 332.68L439.80 331.37L440.30 330.02L440.80 328.64L441.30 327.22L441.80 325.77L442.30 324.30L442.80 322.81L443.30 321.32L443.80 319.81L444.30 318.32L444.80 316.83L445.30 315.36L445.80 313.91L446.30 312.49L446.80 311.08L447.30 309.70L447.80 308.33L448.30 306.98L448.80 305.65L449.30 304.33L449.80 303.03L450.30 301.76L450.80 300.52L451.30 299.31L451.80 298.14L452.30 297.01L452.80 295.93L453.30 294.91L453.80 293.96L454.30 293.09L454.80 292.31L455.30 291.63L455.80 291.04L456.30 290.55L456.80 290.13L457.30 289.78L457.80 289.49L458.30 289.27L458.80 289.11L459.30 289.01L459.80 288.97L460.30 289.01L460.80 289.12L461.30 289.31L461.80 289.59L462.30 289.96L462.80 290.42L463.30 290.97L463.80 291.63L464.30 292.38L464.80 293.22L465.30 294.16L465.80 295.18L466.30 296.29L466.80 297.49L467.30 298.77L467.80 300.13L468.30 301.57L468.80 303.10L469.30 304.70L469.80 306.37L470.30 308.13L470.80 309.98L471.30 311.91L471.80 313.93L472.30 316.03L472.80 318.21L473.30 320.46L473.80 322.77L474.30 325.14L474.80 327.55L475.30 330.00L475.80 332.47L476.30 334.95L476.80 337.44L477.30 339.91L477.80 342.36L478.30 344.79L478.80 347.17L479.30 349.50L479.80 351.77L480.30 353.97L480.80 356.10L481.30 358.14L481.80 360.11L482.30 361.99L482.80 363.79L483.30 365.50L483.80 367.15L484.30 368.73L484.80 370.25L485.30 371.71L485.80 373.12L486.30 374.48L486.80 375.78L487.30 377.03L487.80 378.22L488.30 379.36L488.80 380.44L489.30 381.47L489.80 382.43L490.30 383.34L490.80 384.19L491.30 384.97L491.80 385.69L492.30 386.36L492.80 386.97L493.30 387.53L493.80 388.03L494.30 388.49L494.80 388.90L495.00 389.05" fill="none" stroke="#ff0000" stroke-width="1.8"/>
<path d="M298.80 380.97L299.30 381.00L299.80 381.03L300.30 381.07L300.80 381.10L301.30 381.13L301.80 381.16L302.30 381.19L302.80 381.23L303.30 381.26L303.80 381.29L304.30 381.32L304.80 381.35L305.30 381.39L305.80 381.42L306.30 381.45L306.80 381.48L307.30 381.51L307.80 381.55L308.30 381.58L308.80 381.61L309.30 381.64L309.80 381.67L310.30 381.71L310.80 381.74L311.30 381.77L311.80 381.80L312.30 381.83L312.80 381.87L313.30 381.90L313.80 381.93L314.30 381.96L314.80 381.99L315.30 382.03L315.80 382.06L316.30 382.09L316.80 382.12L317.30 382.15L317.80 382.19L318.30 382.22L318.80 382.25L319.30 382.28L319.80 382.31L320.30 382.35L320.80 382.38L321.30 382.41L321.80 382.44L322.30 382.48L322.80 382.51L323.30 382.54L323.80 382.57L324.30 382.60L324.80 382.64L325.30 382.67L325.80 382.70L326.30 382.73L326.80 382.76L327.30 382.80L327.80 382.83L328.30 382.86L328.80 382.89L329.30 382.92L329.80 382.96L330.30 382.99L330.80 383.02L331.30 383.05L331.80 383.08L332.30 383.12L332.80 383.15L333.30 383.18L333.80 383.21L334.30 383.24L334.80 383.28L335.30 383.31L335.80 383.34L336.30 383.37L336.80 383.40L337.30 383.44L337.80 383.47L338.30 383.50L338.80 383.53L339.30 383.56L339.80 383.60L340.30 383.63L340.80 383.66L341.30 383.69L341.80 383.72L342.30 383.76L342.80 383.79L343.30 383.82L343.80 383.85L344.30 383.88L344.80 383.92L345.30 383.95L345.80 383.98L346.30 384.01L346.80 384.04L347.30 384.08L347.80 384.11L348.30 384.14L348.80 384.17L349.30 384.21L349.80 384.24L350.30 384.27L350.80 384.30L351.30 384.33L351.80 384.37L352.30 384.40L352.80 384.43L353.30 384.46L353.80 384.49L354.30 384.53L354.80 384.56L355.30 384.59L355.80 384.62L356.30 384.65L356.80 384.69L357.30 384.72L357.80 384.75L358.30 384.78L358.80 384.81L359.30 384.85L359.80 384.88L360.30 384.91L360.80 384.94L361.30 384.97L361.80 385.01L362.30 385.04L362.80 385.07L363.30 385.10L363.80 385.13L364.30 385.17L364.80 385.20L365.30 385.23L365.80 385.26L366.30 385.29L366.80 385.33L367.30 385.36L367.80 385.39L368.30 385.42L368.80 385.45L369.30 385.49L369.80 385.52L370.30 385.55L370.80 385.58L371.30 385.61L371.80 385.65L372.30 385.68L372.80 385.71L373.30 385.74L373.80 385.77L374.30 385.81L374.80 385.84L375.30 385.87L375.80 385.90L376.30 385.94L376.80 385.97L377.30 386.00L377.80 386.03L378.30 386.06L378.80 386.10L379.30 386.13L379.80 386.16L380.30 386.19L380.80 386.22L381.30 386.26L381.80 386.29L382.30 386.32L382.80 386.35L383.30 386.38L383.80 386.42L384.30 386.45L384.80 386.48L385.30 386.51L385.80 386.54L386.30 386.58L386.80 386.61L387.30 386.64L387.80 386.67L388.30 386.70L388.80 386.74L389.30 386.77L389.80 386.80L390.30 386.83L390.80 386.86L391.30 386.90L391.80 386.93L392.30 386.96L392.80 386.99L393.30 387.02L393.80 387.06L394.30 387.09L394.80 387.12L395.30 387.15L395.80 387.18L396.30 387.22L396.80 387.25L397.30 387.28L397.80 387.31L398.30 387.34L398.80 387.38L399.30 387.41L399.80 387.44L400.30 387.47L400.80 387.50L401.30 387.54L401.80 387.57L402.30 387.60L402.80 387.63L403.30 387.67L403.80 387.70L404.30 387.73L404.80 387.76L405.30 387.79L405.80 387.83L406.30 387.86L406.80 387.89L407.30 387.92L407.80 387.95L408.30 387.99L408.80 388.02L409.30 388.05L409.80 388.08L410.30 388.11L410.80 388.15L411.30 388.18L411.80 388.21L412.30 388.24L412.80 388.27L413.30 388.31L413.80 388.34L414.30 388.37L414.80 388.40L415.30 388.43L415.80 388.47L416.30 388.50L416.80 388.53L417.30 388.56L417.80 388.59L418.30 388.63L418.80 388.66L419.30 388.69L419.80 388.72L420.30 388.75L420.80 388.79L421.30 388.82L421.80 388.85L422.30 388.88L422.80 388.91L423.30 388.95L423.80 388.98L424.30 389.01L424.80 389.04L425.30 389.07L425.80 389.11L426.30 389.14L426.80 389.17L427.30 389.20L427.80 389.23L428.30 389.27L428.80 389.30L429.30 389.33L429.80 389.36L430.30 389.40L430.80 389.43L431.30 389.46L431.80 389.49L432.30 389.52L432.80 389.56L433.30 389.59L433.80 389.62L434.30 389.65L434.80 389.68L435.30 389.72L435.80 389.75L436.30 389.78L436.80 389.81L437.30 389.84L437.80 389.88L438.30 389.91L438.80 389.94L439.30 389.97L439.80 390.00L440.30 390.04L440.80 390.07L441.30 390.10L441.80 390.13L442.30 390.16L442.80 390.20L443.30 390.23L443.80 390.26L444.30 390.29L444.80 390.32L445.30 390.36L445.80 390.39L446.30 390.42L446.80 390.45L447.30 390.48L447.80 390.52L448.30 390.55L448.80 390.58L449.30 390.61L449.80 390.64L450.30 390.68L450.80 390.71L451.30 390.74L451.80 390.77L452.30 390.80L452.80 390.84L453.30 390.87L453.80 390.90L454.30 390.93L454.80 390.96L455.30 391.00L455.80 391.03L456.30 391.06L456.80 391.09L457.30 391.13L457.80 391.16L458.30 391.19L458.80 391.22L459.30 391.25L459.80 391.29L460.30 391.32L460.80 391.35L461.30 391.38L461.80 391.41L462.30 391.45L462.80 391.48L463.30 391.51L463.80 391.54L464.30 391.57L464.80 391.61L465.30 391.64L465.80 391.67L466.30 391.70L466.80 391.73L467.30 391.77L467.80 391.80L468.30 391.83L468.80 391.86L469.30 391.89L469.80 391.93L470.30 391.96L470.80 391.99L471.30 392.02L471.80 392.05L472.30 392.09L472.80 392.12L473.30 392.15L473.80 392.18L474.30 392.21L474.80 392.25L475.30 392.28L475.80 392.31L476.30 392.34L476.80 392.37L477.30 392.41L477.80 392.44L478.30 392.47L478.80 392.50L479.30 392.53L479.80 392.57L480.30 392.60L480.80 392.63L481.30 392.66L481.80 392.69L482.30 392.73L482.80 392.76L483.30 392.79L483.80 392.82L484.30 392.86L484.80 392.89L485.30 392.92L485.80 392.95L486.30 392.98L486.80 393.02L487.30 393.05L487.80 393.08L488.30 393.11L488.80 393.14L489.30 393.18L489.80 393.21L490.30 393.24L490.80 393.27L491.30 393.30L491.80 393.34L492.30 393.37L492.80 393.40L493.30 393.43L493.80 393.46L494.30 393.50L494.80 393.53L495.00 393.54" fill="none" stroke="#0000ff" stroke-width="1.8"/>
<path d="M298.80 380.96L299.30 380.99L299.80 381.02L300.30 381.06L300.80 381.09L301.30 381.12L301.80 381.15L302.30 381.18L302.80 381.22L303.30 381.25L303.80 381.28L304.30 381.31L304.80 381.34L305.30 381.38L305.80 381.41L306.30 381.44L306.80 381.47L307.30 381.50L307.80 381.54L308.30 381.57L308.80 381.60L309.30 381.63L309.80 381.66L310.30 381.70L310.80 381.73L311.30 381.76L311.80 381.79L312.30 381.82L312.80 381.86L313.30 381.89L313.80 381.92L314.30 381.95L314.80 381.98L315.30 382.01L315.80 382.05L316.30 382.08L316.80 382.11L317.30 382.14L317.80 382.17L318.30 382.21L318.80 382.24L319.30 382.27L319.80 382.30L320.30 382.33L320.80 382.37L321.30 382.40L321.80 382.43L322.30 382.46L322.80 382.49L323.30 382.53L323.80 382.56L324.30 382.59L324.80 382.62L325.30 382.65L325.80 382.69L326.30 382.72L326.80 382.75L327.30 382.78L327.80 382.81L328.30 382.85L328.80 382.88L329.30 382.91L329.80 382.94L330.30 382.97L330.80 383.01L331.30 383.04L331.80 383.07L332.30 383.10L332.80 383.13L333.30 383.16L333.80 383.20L334.30 383.23L334.80 383.26L335.30 383.29L335.80 383.32L336.30 383.36L336.80 383.39L337.30 383.42L337.80 383.45L338.30 383.48L338.80 383.52L339.30 383.55L339.80 383.58L340.30 383.61L340.80 383.64L341.30 383.68L341.80 383.71L342.30 383.74L342.80 383.77L343.30 383.80L343.80 383.84L344.30 383.87L344.80 383.90L345.30 383.93L345.80 383.96L346.30 383.99L346.80 384.03L347.30 384.06L347.80 384.09L348.30 384.12L348.80 384.15L349.30 384.19L349.80 384.22L350.30 384.25L350.80 384.28L351.30 384.31L351.80 384.35L352.30 384.38L352.80 384.41L353.30 384.44L353.80 384.47L354.30 384.50L354.80 384.54L355.30 384.57L355.80 384.60L356.30 384.63L356.80 384.66L357.30 384.70L357.80 384.73L358.30 384.76L358.80 384.79L359.30 384.82L359.80 384.85L360.30 384.89L360.80 384.92L361.30 384.95L361.80 384.98L362.30 385.01L362.80 385.05L363.30 385.08L363.80 385.11L364.30 385.14L364.80 385.17L365.30 385.20L365.80 385.24L366.30 385.27L366.80 385.30L367.30 385.33L367.80 385.36L368.30 385.40L368.80 385.43L369.30 385.46L369.80 385.49L370.30 385.52L370.80 385.55L371.30 385.59L371.80 385.62L372.30 385.65L372.80 385.68L373.30 385.71L373.80 385.74L374.30 385.78L374.80 385.81L375.30 385.84L375.80 385.87L376.30 385.90L376.80 385.94L377.30 385.97L377.80 386.00L378.30 386.03L378.80 386.06L379.30 386.09L379.80 386.13L380.30 386.16L380.80 386.19L381.30 386.22L381.80 386.25L382.30 386.28L382.80 386.32L383.30 386.35L383.80 386.38L384.30 386.41L384.80 386.44L385.30 386.47L385.80 386.50L386.30 386.54L386.80 386.57L387.30 386.60L387.80 386.63L388.30 386.66L388.80 386.69L389.30 386.73L389.80 386.76L390.30 386.79L390.80 386.82L391.30 386.85L391.80 386.88L392.30 386.91L392.80 386.95L393.30 386.98L393.80 387.01L394.30 387.04L394.80 387.07L395.30 387.10L395.80 387.13L396.30 387.17L396.80 387.20L397.30 387.23L397.80 387.26L398.30 387.29L398.80 387.32L399.30 387.35L399.80 387.39L400.30 387.42L400.80 387.45L401.30 387.48L401.80 387.51L402.30 387.54L402.80 387.57L403.30 387.60L403.80 387.63L404.30 387.67L404.80 387.70L405.30 387.73L405.80 387.76L406.30 387.79L406.80 387.82L407.30 387.85L407.80 387.88L408.30 387.91L408.80 387.94L409.30 387.98L409.80 388.01L410.30 388.04L410.80 388.07L411.30 388.10L411.80 388.13L412.30 388.16L412.80 388.19L413.30 388.22L413.80 388.25L414.30 388.28L414.80 388.31L415.30 388.34L415.80 388.37L416.30 388.40L416.80 388.43L417.30 388.47L417.80 388.50L418.30 388.53L418.80 388.56L419.30 388.59L419.80 388.62L420.30 388.65L420.80 388.68L421.30 388.71L421.80 388.74L422.30 388.77L422.80 388.79L423.30 388.82L423.80 388.85L424.30 388.88L424.80 388.91L425.30 388.94L425.80 388.97L426.30 389.00L426.80 389.03L427.30 389.06L427.80 389.08L428.30 389.11L428.80 389.14L429.30 389.17L429.80 389.19L430.30 389.22L430.80 389.25L431.30 389.27L431.80 389.30L432.30 389.32L432.80 389.34L433.30 389.37L433.80 389.39L434.30 389.41L434.80 389.43L435.30 389.44L435.80 389.46L436.30 389.47L436.80 389.48L437.30 389.48L437.80 389.48L438.30 389.48L438.80 389.47L439.30 389.46L439.80 389.44L440.30 389.42L440.80 389.38L441.30 389.34L441.80 389.29L442.30 389.23L442.80 389.16L443.30 389.07L443.80 388.97L444.30 388.85L444.80 388.72L445.30 388.56L445.80 388.39L446.30 388.19L446.80 387.98L447.30 387.73L447.80 387.46L448.30 387.16L448.80 386.82L449.30 386.46L449.80 386.06L450.30 385.62L450.80 385.15L451.30 384.64L451.80 384.09L452.30 383.50L452.80 382.88L453.30 382.20L453.80 381.49L454.30 380.74L454.80 379.95L455.30 379.12L455.80 378.25L456.30 377.34L456.80 376.41L457.30 375.44L457.80 374.44L458.30 373.42L458.80 372.38L459.30 371.33L459.80 370.26L460.30 369.20L460.80 368.13L461.30 367.06L461.80 366.01L462.30 364.98L462.80 363.98L463.30 363.01L463.80 362.07L464.30 361.18L464.80 360.35L465.30 359.57L465.80 358.86L466.30 358.22L466.80 357.66L467.30 357.18L467.80 356.78L468.30 356.48L468.80 356.27L469.30 356.15L469.80 356.13L470.30 356.21L470.80 356.41L471.30 356.71L471.80 357.13L472.30 357.65L472.80 358.27L473.30 358.98L473.80 359.78L474.30 360.66L474.80 361.62L475.30 362.63L475.80 363.70L476.30 364.82L476.80 365.98L477.30 367.16L477.80 368.37L478.30 369.59L478.80 370.81L479.30 372.04L479.80 373.25L480.30 374.45L480.80 375.63L481.30 376.78L481.80 377.90L482.30 378.99L482.80 380.03L483.30 381.04L483.80 382.00L484.30 382.91L484.80 383.78L485.30 384.60L485.80 385.37L486.30 386.09L486.80 386.76L487.30 387.39L487.80 387.98L488.30 388.52L488.80 389.01L489.30 389.47L489.80 389.89L490.30 390.28L490.80 390.63L491.30 390.95L491.80 391.24L492.30 391.51L492.80 391.74L493.30 391.96L493.80 392.16L494.30 392.33L494.80 392.50L495.00 392.56" fill="none" stroke="#078a80" stroke-width="1.8"/>
<path d="M298.80 380.91L299.30 380.94L299.80 380.98L300.30 381.01L300.80 381.04L301.30 381.07L301.80 381.10L302.30 381.13L302.80 381.17L303.30 381.20L303.80 381.23L304.30 381.26L304.80 381.29L305.30 381.32L305.80 381.35L306.30 381.39L306.80 381.42L307.30 381.45L307.80 381.48L308.30 381.51L308.80 381.54L309.30 381.58L309.80 381.61L310.30 381.64L310.80 381.67L311.30 381.70L311.80 381.73L312.30 381.77L312.80 381.80L313.30 381.83L313.80 381.86L314.30 381.89L314.80 381.92L315.30 381.95L315.80 381.99L316.30 382.02L316.80 382.05L317.30 382.08L317.80 382.11L318.30 382.14L318.80 382.18L319.30 382.21L319.80 382.24L320.30 382.27L320.80 382.30L321.30 382.33L321.80 382.36L322.30 382.40L322.80 382.43L323.30 382.46L323.80 382.49L324.30 382.52L324.80 382.55L325.30 382.58L325.80 382.62L326.30 382.65L326.80 382.68L327.30 382.71L327.80 382.74L328.30 382.77L328.80 382.80L329.30 382.84L329.80 382.87L330.30 382.90L330.80 382.93L331.30 382.96L331.80 382.99L332.30 383.02L332.80 383.05L333.30 383.09L333.80 383.12L334.30 383.15L334.80 383.18L335.30 383.21L335.80 383.24L336.30 383.27L336.80 383.30L337.30 383.34L337.80 383.37L338.30 383.40L338.80 383.43L339.30 383.46L339.80 383.49L340.30 383.52L340.80 383.55L341.30 383.59L341.80 383.62L342.30 383.65L342.80 383.68L343.30 383.71L343.80 383.74L344.30 383.77L344.80 383.80L345.30 383.83L345.80 383.86L346.30 383.90L346.80 383.93L347.30 383.96L347.80 383.99L348.30 384.02L348.80 384.05L349.30 384.08L349.80 384.11L350.30 384.14L350.80 384.17L351.30 384.20L351.80 384.24L352.30 384.27L352.80 384.30L353.30 384.33L353.80 384.36L354.30 384.39L354.80 384.42L355.30 384.45L355.80 384.48L356.30 384.51L356.80 384.54L357.30 384.57L357.80 384.60L358.30 384.63L358.80 384.67L359.30 384.70L359.80 384.73L360.30 384.76L360.80 384.79L361.30 384.82L361.80 384.85L362.30 384.88L362.80 384.91L363.30 384.94L363.80 384.97L364.30 385.00L364.80 385.03L365.30 385.06L365.80 385.09L366.30 385.12L366.80 385.15L367.30 385.18L367.80 385.21L368.30 385.24L368.80 385.27L369.30 385.30L369.80 385.33L370.30 385.36L370.80 385.39L371.30 385.42L371.80 385.45L372.30 385.48L372.80 385.51L373.30 385.54L373.80 385.57L374.30 385.60L374.80 385.63L375.30 385.66L375.80 385.69L376.30 385.72L376.80 385.75L377.30 385.78L377.80 385.80L378.30 385.83L378.80 385.86L379.30 385.89L379.80 385.92L380.30 385.95L380.80 385.98L381.30 386.01L381.80 386.04L382.30 386.07L382.80 386.09L383.30 386.12L383.80 386.15L384.30 386.18L384.80 386.21L385.30 386.24L385.80 386.26L386.30 386.29L386.80 386.32L387.30 386.35L387.80 386.38L388.30 386.40L388.80 386.43L389.30 386.46L389.80 386.49L390.30 386.52L390.80 386.54L391.30 386.57L391.80 386.60L392.30 386.62L392.80 386.65L393.30 386.68L393.80 386.70L394.30 386.73L394.80 386.76L395.30 386.78L395.80 386.81L396.30 386.83L396.80 386.86L397.30 386.88L397.80 386.91L398.30 386.93L398.80 386.96L399.30 386.98L399.80 387.00L400.30 387.03L400.80 387.05L401.30 387.07L401.80 387.09L402.30 387.11L402.80 387.13L403.30 387.15L403.80 387.17L404.30 387.19L404.80 387.21L405.30 387.22L405.80 387.24L406.30 387.25L406.80 387.26L407.30 387.27L407.80 387.28L408.30 387.28L408.80 387.28L409.30 387.28L409.80 387.28L410.30 387.27L410.80 387.26L411.30 387.25L411.80 387.23L412.30 387.21L412.80 387.18L413.30 387.15L413.80 387.11L414.30 387.06L414.80 387.00L415.30 386.94L415.80 386.87L416.30 386.79L416.80 386.70L417.30 386.59L417.80 386.48L418.30 386.35L418.80 386.20L419.30 386.05L419.80 385.87L420.30 385.68L420.80 385.47L421.30 385.24L421.80 384.99L422.30 384.71L422.80 384.42L423.30 384.09L423.80 383.74L424.30 383.36L424.80 382.96L425.30 382.52L425.80 382.05L426.30 381.54L426.80 381.00L427.30 380.42L427.80 379.81L428.30 379.15L428.80 378.46L429.30 377.72L429.80 376.94L430.30 376.12L430.80 375.25L431.30 374.34L431.80 373.38L432.30 372.38L432.80 371.33L433.30 370.23L433.80 369.08L434.30 367.89L434.80 366.66L435.30 365.38L435.80 364.05L436.30 362.69L436.80 361.28L437.30 359.83L437.80 358.35L438.30 356.83L438.80 355.28L439.30 353.70L439.80 352.09L440.30 350.46L440.80 348.81L441.30 347.15L441.80 345.47L442.30 343.79L442.80 342.10L443.30 340.42L443.80 338.74L444.30 337.08L444.80 335.43L445.30 333.81L445.80 332.21L446.30 330.65L446.80 329.13L447.30 327.65L447.80 326.23L448.30 324.86L448.80 323.55L449.30 322.31L449.80 321.15L450.30 320.06L450.80 319.06L451.30 318.14L451.80 317.31L452.30 316.58L452.80 315.95L453.30 315.43L453.80 315.01L454.30 314.69L454.80 314.49L455.30 314.39L455.80 314.41L456.30 314.54L456.80 314.77L457.30 315.11L457.80 315.55L458.30 316.09L458.80 316.74L459.30 317.48L459.80 318.31L460.30 319.23L460.80 320.25L461.30 321.34L461.80 322.51L462.30 323.75L462.80 325.06L463.30 326.43L463.80 327.86L464.30 329.34L464.80 330.87L465.30 332.44L465.80 334.05L466.30 335.68L466.80 337.35L467.30 339.03L467.80 340.73L468.30 342.44L468.80 344.15L469.30 345.87L469.80 347.58L470.30 349.29L470.80 350.98L471.30 352.66L471.80 354.32L472.30 355.95L472.80 357.56L473.30 359.15L473.80 360.70L474.30 362.22L474.80 363.70L475.30 365.14L475.80 366.55L476.30 367.91L476.80 369.23L477.30 370.51L477.80 371.75L478.30 372.94L478.80 374.08L479.30 375.19L479.80 376.24L480.30 377.26L480.80 378.23L481.30 379.15L481.80 380.03L482.30 380.87L482.80 381.67L483.30 382.43L483.80 383.15L484.30 383.83L484.80 384.47L485.30 385.08L485.80 385.65L486.30 386.20L486.80 386.70L487.30 387.18L487.80 387.63L488.30 388.05L488.80 388.45L489.30 388.82L489.80 389.16L490.30 389.49L490.80 389.79L491.30 390.07L491.80 390.34L492.30 390.58L492.80 390.81L493.30 391.03L493.80 391.23L494.30 391.41L494.80 391.59L495.00 391.65" fill="none" stroke="#ff00ff" stroke-width="1.8"/>
<path d="M298.80 377.89L299.30 377.87L299.80 377.85L300.30 377.83L300.80 377.81L301.30 377.79L301.80 377.77L302.30 377.75L302.80 377.72L303.30 377.69L303.80 377.67L304.30 377.64L304.80 377.60L305.30 377.57L305.80 377.54L306.30 377.50L306.80 377.46L307.30 377.42L307.80 377.38L308.30 377.34L308.80 377.29L309.30 377.24L309.80 377.19L310.30 377.14L310.80 377.09L311.30 377.03L311.80 376.98L312.30 376.92L312.80 376.85L313.30 376.79L313.80 376.72L314.30 376.65L314.80 376.58L315.30 376.51L315.80 376.43L316.30 376.35L316.80 376.27L317.30 376.18L317.80 376.10L318.30 376.01L318.80 375.91L319.30 375.82L319.80 375.72L320.30 375.62L320.80 375.51L321.30 375.41L321.80 375.29L322.30 375.18L322.80 375.06L323.30 374.94L323.80 374.82L324.30 374.69L324.80 374.56L325.30 374.43L325.80 374.29L326.30 374.15L326.80 374.01L327.30 373.86L327.80 373.71L328.30 373.56L328.80 373.40L329.30 373.24L329.80 373.07L330.30 372.90L330.80 372.73L331.30 372.55L331.80 372.37L332.30 372.18L332.80 372.00L333.30 371.80L333.80 371.61L334.30 371.41L334.80 371.20L335.30 370.99L335.80 370.78L336.30 370.57L336.80 370.34L337.30 370.12L337.80 369.89L338.30 369.66L338.80 369.42L339.30 369.18L339.80 368.94L340.30 368.69L340.80 368.43L341.30 368.18L341.80 367.92L342.30 367.65L342.80 367.38L343.30 367.11L343.80 366.83L344.30 366.55L344.80 366.27L345.30 365.98L345.80 365.68L346.30 365.39L346.80 365.09L347.30 364.78L347.80 364.48L348.30 364.16L348.80 363.85L349.30 363.53L349.80 363.21L350.30 362.88L350.80 362.55L351.30 362.22L351.80 361.89L352.30 361.55L352.80 361.21L353.30 360.86L353.80 360.52L354.30 360.17L354.80 359.81L355.30 359.46L355.80 359.10L356.30 358.74L356.80 358.38L357.30 358.01L357.80 357.65L358.30 357.28L358.80 356.91L359.30 356.53L359.80 356.16L360.30 355.79L360.80 355.41L361.30 355.03L361.80 354.65L362.30 354.27L362.80 353.89L363.30 353.51L363.80 353.13L364.30 352.75L364.80 352.37L365.30 351.99L365.80 351.61L366.30 351.23L366.80 350.85L367.30 350.47L367.80 350.10L368.30 349.72L368.80 349.35L369.30 348.98L369.80 348.61L370.30 348.24L370.80 347.87L371.30 347.51L371.80 347.15L372.30 346.79L372.80 346.44L373.30 346.09L373.80 345.74L374.30 345.40L374.80 345.06L375.30 344.73L375.80 344.40L376.30 344.08L376.80 343.76L377.30 343.45L377.80 343.14L378.30 342.85L378.80 342.55L379.30 342.27L379.80 341.99L380.30 341.71L380.80 341.45L381.30 341.19L381.80 340.94L382.30 340.70L382.80 340.47L383.30 340.24L383.80 340.03L384.30 339.82L384.80 339.63L385.30 339.44L385.80 339.27L386.30 339.10L386.80 338.94L387.30 338.80L387.80 338.66L388.30 338.54L388.80 338.43L389.30 338.33L389.80 338.24L390.30 338.16L390.80 338.09L391.30 338.04L391.80 337.99L392.30 337.96L392.80 337.94L393.30 337.94L393.80 337.94L394.30 337.96L394.80 337.99L395.30 338.03L395.80 338.08L396.30 338.15L396.80 338.24L397.30 338.33L397.80 338.44L398.30 338.56L398.80 338.69L399.30 338.84L399.80 339.00L400.30 339.17L400.80 339.35L401.30 339.55L401.80 339.76L402.30 339.97L402.80 340.20L403.30 340.45L403.80 340.70L404.30 340.96L404.80 341.24L405.30 341.52L405.80 341.81L406.30 342.12L406.80 342.43L407.30 342.75L407.80 343.08L408.30 343.42L408.80 343.77L409.30 344.13L409.80 344.49L410.30 344.86L410.80 345.24L411.30 345.62L411.80 346.01L412.30 346.41L412.80 346.81L413.30 347.22L413.80 347.63L414.30 348.05L414.80 348.47L415.30 348.90L415.80 349.33L416.30 349.77L416.80 350.21L417.30 350.65L417.80 351.10L418.30 351.54L418.80 352.00L419.30 352.45L419.80 352.90L420.30 353.36L420.80 353.82L421.30 354.28L421.80 354.74L422.30 355.20L422.80 355.66L423.30 356.12L423.80 356.59L424.30 357.05L424.80 357.51L425.30 357.97L425.80 358.44L426.30 358.90L426.80 359.36L427.30 359.81L427.80 360.27L428.30 360.73L428.80 361.18L429.30 361.64L429.80 362.09L430.30 362.53L430.80 362.98L431.30 363.43L431.80 363.87L432.30 364.31L432.80 364.74L433.30 365.18L433.80 365.61L434.30 366.04L434.80 366.46L435.30 366.88L435.80 367.30L436.30 367.71L436.80 368.13L437.30 368.53L437.80 368.94L438.30 369.34L438.80 369.73L439.30 370.13L439.80 370.52L440.30 370.90L440.80 371.28L441.30 371.66L441.80 372.03L442.30 372.40L442.80 372.76L443.30 373.12L443.80 373.48L444.30 373.83L444.80 374.18L445.30 374.52L445.80 374.86L446.30 375.19L446.80 375.52L447.30 375.84L447.80 376.16L448.30 376.48L448.80 376.79L449.30 377.10L449.80 377.40L450.30 377.70L450.80 377.99L451.30 378.28L451.80 378.57L452.30 378.85L452.80 379.13L453.30 379.40L453.80 379.67L454.30 379.93L454.80 380.19L455.30 380.44L455.80 380.70L456.30 380.94L456.80 381.19L457.30 381.42L457.80 381.66L458.30 381.89L458.80 382.12L459.30 382.34L459.80 382.56L460.30 382.77L460.80 382.98L461.30 383.19L461.80 383.39L462.30 383.59L462.80 383.79L463.30 383.98L463.80 384.17L464.30 384.36L464.80 384.54L465.30 384.72L465.80 384.89L466.30 385.07L466.80 385.24L467.30 385.40L467.80 385.56L468.30 385.72L468.80 385.88L469.30 386.04L469.80 386.19L470.30 386.33L470.80 386.48L471.30 386.62L471.80 386.76L472.30 386.90L472.80 387.03L473.30 387.17L473.80 387.30L474.30 387.42L474.80 387.55L475.30 387.67L475.80 387.79L476.30 387.91L476.80 388.02L477.30 388.14L477.80 388.25L478.30 388.36L478.80 388.47L479.30 388.57L479.80 388.68L480.30 388.78L480.80 388.88L481.30 388.98L481.80 389.07L482.30 389.17L482.80 389.26L483.30 389.35L483.80 389.44L484.30 389.53L484.80 389.62L485.30 389.71L485.80 389.79L486.30 389.87L486.80 389.95L487.30 390.03L487.80 390.11L488.30 390.19L488.80 390.27L489.30 390.34L489.80 390.42L490.30 390.49L490.80 390.56L491.30 390.63L491.80 390.71L492.30 390.77L492.80 390.84L493.30 390.91L493.80 390.98L494.30 391.04L494.80 391.11L495.00 391.13" fill="none" stroke="#808000" stroke-width="1.8"/>
<text x="27" y="18.3" font-size="14.5" font-weight="bold" fill="#111" stroke="#111" stroke-width="0.45">a)</text>
<text x="300" y="18.5" font-size="14.5" font-weight="bold" fill="#111" stroke="#111" stroke-width="0.45">b)</text>
<text x="26.5" y="235.2" font-size="14.5" font-weight="bold" fill="#111" stroke="#111" stroke-width="0.45">c)</text>
<text x="300.5" y="235.2" font-size="14.5" font-weight="bold" fill="#111" stroke="#111" stroke-width="0.45">d)</text>
<text transform="translate(207,20.6) scale(1,1.03)" font-size="15.3" font-weight="bold" fill="#111" stroke="#111" stroke-width="0.45">Cu 2p<tspan font-size="9.6" dx="0.3" dy="4.6">3/2</tspan></text>
<text transform="translate(484,20.5) scale(1,1.03)" font-size="15.3" font-weight="bold" fill="#111" stroke="#111" stroke-width="0.45">Ni 2p<tspan font-size="9.6" dx="0.3" dy="4.6">3/2</tspan></text>
<text transform="translate(206.3,237) scale(1,1.03)" font-size="15.3" font-weight="bold" fill="#111" stroke="#111" stroke-width="0.45">Ni 2p<tspan font-size="9.6" dx="0.3" dy="4.6">3/2</tspan></text>
<text transform="translate(480.3,237.4) scale(1,1.03)" font-size="15.3" font-weight="bold" fill="#111" stroke="#111" stroke-width="0.45">Ni 2p<tspan font-size="9.6" dx="0.3" dy="4.6">3/2</tspan></text>
<text x="128.00" y="262.40" font-size="10.4" font-weight="bold" fill="#111" stroke="#111" stroke-width="0.35">Ni</text>
<text x="138.90" y="257.40" font-size="6.7" font-weight="bold" fill="#111" stroke="#111" stroke-width="0.35">III</text>
<text x="145.80" y="262.40" font-size="10.4" font-weight="bold" fill="#111" stroke="#111" stroke-width="0.35">/</text>
<text x="149.10" y="262.40" font-size="10.4" font-weight="bold" fill="#111" stroke="#111" stroke-width="0.35">Ni</text>
<text x="160.80" y="257.40" font-size="6.7" font-weight="bold" fill="#111" stroke="#111" stroke-width="0.35">II</text>
<text x="168.30" y="263.00" font-size="11.4" font-weight="bold" fill="#111" stroke="#111" stroke-width="0.35">=</text>
<text x="177.90" y="262.40" font-size="10.4" font-weight="bold" fill="#111" stroke="#111" stroke-width="0.35">0.62</text>
<text x="414.00" y="271.90" font-size="10.4" font-weight="bold" fill="#111" stroke="#111" stroke-width="0.35">Ni</text>
<text x="424.90" y="266.90" font-size="6.7" font-weight="bold" fill="#111" stroke="#111" stroke-width="0.35">III</text>
<text x="431.80" y="271.90" font-size="10.4" font-weight="bold" fill="#111" stroke="#111" stroke-width="0.35">/</text>
<text x="435.10" y="271.90" font-size="10.4" font-weight="bold" fill="#111" stroke="#111" stroke-width="0.35">Ni</text>
<text x="446.80" y="266.90" font-size="6.7" font-weight="bold" fill="#111" stroke="#111" stroke-width="0.35">II</text>
<text x="454.30" y="272.50" font-size="11.4" font-weight="bold" fill="#111" stroke="#111" stroke-width="0.35">=</text>
<text x="463.90" y="271.90" font-size="10.4" font-weight="bold" fill="#111" stroke="#111" stroke-width="0.35">3.06</text>
<text transform="translate(69.30,100.80) scale(1,1.06)" font-size="15.6" fill="#ff00ff" stroke="#ff00ff" stroke-width="0.2">Sat.</text>
<text transform="translate(171.80,44.60) scale(1,1.06)" font-size="15.6" fill="#078a80" stroke="#078a80" stroke-width="0.2">Cu</text>
<text transform="translate(190.80,37.60) scale(0.9,1.2)" font-size="8.2" fill="#078a80">II</text>
<text transform="translate(380.20,104.40) scale(1,1.06)" font-size="15.6" fill="#ff00ff" stroke="#ff00ff" stroke-width="0.2">Sat.</text>
<text transform="translate(451.40,64.10) scale(1,1.06)" font-size="15.6" fill="#078a80" stroke="#078a80" stroke-width="0.2">Ni</text>
<text transform="translate(467.70,57.10) scale(0.9,1.2)" font-size="8.2" fill="#078a80">II</text>
<text transform="translate(110.30,318.60) scale(1,1.06)" font-size="15.6" fill="#808000" stroke="#808000" stroke-width="0.2">Sat.</text>
<text transform="translate(148.00,309.20) scale(1,1.06)" font-size="15.6" fill="#ff00ff" stroke="#ff00ff" stroke-width="0.2">Ni</text>
<text transform="translate(164.90,302.20) scale(0.9,1.2)" font-size="8.2" fill="#ff00ff">III</text>
<text transform="translate(206.30,291.80) scale(1,1.06)" font-size="15.6" fill="#078a80" stroke="#078a80" stroke-width="0.2">Ni</text>
<text transform="translate(222.60,284.80) scale(0.9,1.2)" font-size="8.2" fill="#078a80">II</text>
<text transform="translate(377.40,327.20) scale(1,1.06)" font-size="15.6" fill="#808000" stroke="#808000" stroke-width="0.2">Sat.</text>
<text transform="translate(420.80,307.20) scale(1,1.06)" font-size="15.6" fill="#ff00ff" stroke="#ff00ff" stroke-width="0.2">Ni</text>
<text transform="translate(437.70,300.20) scale(0.9,1.2)" font-size="8.2" fill="#ff00ff">III</text>
<text transform="translate(485.50,335.60) scale(1,1.06)" font-size="15.6" fill="#078a80" stroke="#078a80" stroke-width="0.2">Ni</text>
<text transform="translate(501.80,328.60) scale(0.9,1.2)" font-size="8.2" fill="#078a80">II</text>
</svg></body></html>
